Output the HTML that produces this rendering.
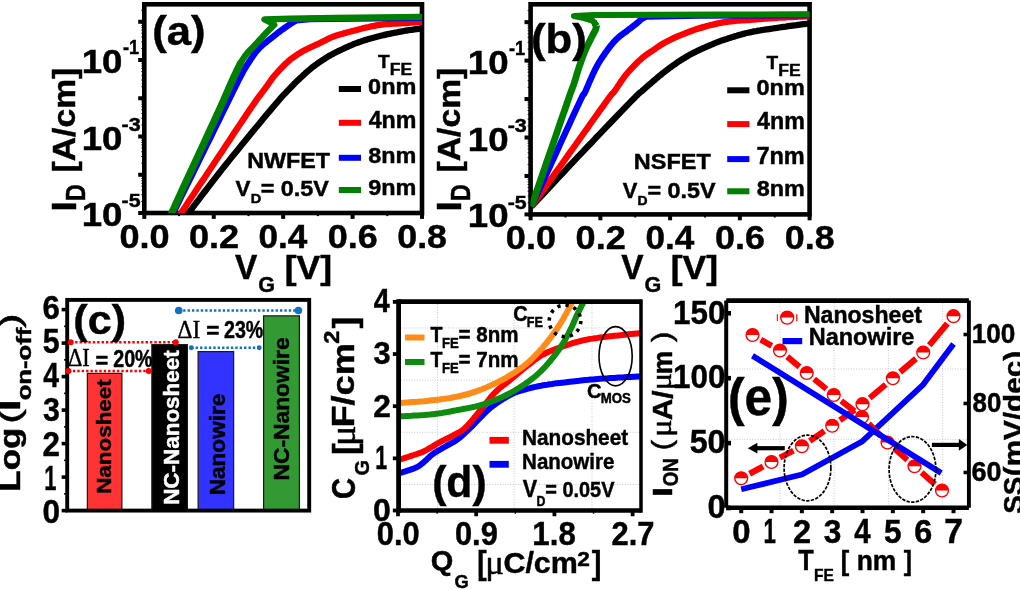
<!DOCTYPE html>
<html><head><meta charset="utf-8"><title>Figure</title>
<style>html,body{margin:0;padding:0;background:#fff;overflow:hidden}svg{display:block}text{white-space:pre}</style>
</head><body>
<svg width="1020" height="590" viewBox="0 0 1020 590">
<rect width="1020" height="590" fill="#fff"/>
<rect x="144.30" y="4.30" width="277.70" height="208.70" fill="none" stroke="#000" stroke-width="4.6" />
<line x1="138.20" y1="213.00" x2="144.30" y2="213.00" stroke="#000" stroke-width="4.0" />
<line x1="141.30" y1="201.49" x2="144.30" y2="201.49" stroke="#000" stroke-width="0.9" />
<line x1="141.30" y1="194.75" x2="144.30" y2="194.75" stroke="#000" stroke-width="0.9" />
<line x1="141.30" y1="189.97" x2="144.30" y2="189.97" stroke="#000" stroke-width="0.9" />
<line x1="141.30" y1="186.26" x2="144.30" y2="186.26" stroke="#000" stroke-width="0.9" />
<line x1="141.30" y1="183.24" x2="144.30" y2="183.24" stroke="#000" stroke-width="0.9" />
<line x1="141.30" y1="180.67" x2="144.30" y2="180.67" stroke="#000" stroke-width="0.9" />
<line x1="141.30" y1="178.46" x2="144.30" y2="178.46" stroke="#000" stroke-width="0.9" />
<line x1="141.30" y1="176.50" x2="144.30" y2="176.50" stroke="#000" stroke-width="0.9" />
<line x1="138.20" y1="174.75" x2="144.30" y2="174.75" stroke="#000" stroke-width="4.0" />
<line x1="141.30" y1="163.24" x2="144.30" y2="163.24" stroke="#000" stroke-width="0.9" />
<line x1="141.30" y1="156.50" x2="144.30" y2="156.50" stroke="#000" stroke-width="0.9" />
<line x1="141.30" y1="151.72" x2="144.30" y2="151.72" stroke="#000" stroke-width="0.9" />
<line x1="141.30" y1="148.01" x2="144.30" y2="148.01" stroke="#000" stroke-width="0.9" />
<line x1="141.30" y1="144.99" x2="144.30" y2="144.99" stroke="#000" stroke-width="0.9" />
<line x1="141.30" y1="142.42" x2="144.30" y2="142.42" stroke="#000" stroke-width="0.9" />
<line x1="141.30" y1="140.21" x2="144.30" y2="140.21" stroke="#000" stroke-width="0.9" />
<line x1="141.30" y1="138.25" x2="144.30" y2="138.25" stroke="#000" stroke-width="0.9" />
<line x1="138.20" y1="136.50" x2="144.30" y2="136.50" stroke="#000" stroke-width="4.0" />
<line x1="141.30" y1="124.99" x2="144.30" y2="124.99" stroke="#000" stroke-width="0.9" />
<line x1="141.30" y1="118.25" x2="144.30" y2="118.25" stroke="#000" stroke-width="0.9" />
<line x1="141.30" y1="113.47" x2="144.30" y2="113.47" stroke="#000" stroke-width="0.9" />
<line x1="141.30" y1="109.76" x2="144.30" y2="109.76" stroke="#000" stroke-width="0.9" />
<line x1="141.30" y1="106.74" x2="144.30" y2="106.74" stroke="#000" stroke-width="0.9" />
<line x1="141.30" y1="104.17" x2="144.30" y2="104.17" stroke="#000" stroke-width="0.9" />
<line x1="141.30" y1="101.96" x2="144.30" y2="101.96" stroke="#000" stroke-width="0.9" />
<line x1="141.30" y1="100.00" x2="144.30" y2="100.00" stroke="#000" stroke-width="0.9" />
<line x1="138.20" y1="98.25" x2="144.30" y2="98.25" stroke="#000" stroke-width="4.0" />
<line x1="141.30" y1="86.74" x2="144.30" y2="86.74" stroke="#000" stroke-width="0.9" />
<line x1="141.30" y1="80.00" x2="144.30" y2="80.00" stroke="#000" stroke-width="0.9" />
<line x1="141.30" y1="75.22" x2="144.30" y2="75.22" stroke="#000" stroke-width="0.9" />
<line x1="141.30" y1="71.51" x2="144.30" y2="71.51" stroke="#000" stroke-width="0.9" />
<line x1="141.30" y1="68.49" x2="144.30" y2="68.49" stroke="#000" stroke-width="0.9" />
<line x1="141.30" y1="65.92" x2="144.30" y2="65.92" stroke="#000" stroke-width="0.9" />
<line x1="141.30" y1="63.71" x2="144.30" y2="63.71" stroke="#000" stroke-width="0.9" />
<line x1="141.30" y1="61.75" x2="144.30" y2="61.75" stroke="#000" stroke-width="0.9" />
<line x1="138.20" y1="60.00" x2="144.30" y2="60.00" stroke="#000" stroke-width="4.0" />
<line x1="141.30" y1="48.49" x2="144.30" y2="48.49" stroke="#000" stroke-width="0.9" />
<line x1="141.30" y1="41.75" x2="144.30" y2="41.75" stroke="#000" stroke-width="0.9" />
<line x1="141.30" y1="36.97" x2="144.30" y2="36.97" stroke="#000" stroke-width="0.9" />
<line x1="141.30" y1="33.26" x2="144.30" y2="33.26" stroke="#000" stroke-width="0.9" />
<line x1="141.30" y1="30.24" x2="144.30" y2="30.24" stroke="#000" stroke-width="0.9" />
<line x1="141.30" y1="27.67" x2="144.30" y2="27.67" stroke="#000" stroke-width="0.9" />
<line x1="141.30" y1="25.46" x2="144.30" y2="25.46" stroke="#000" stroke-width="0.9" />
<line x1="141.30" y1="23.50" x2="144.30" y2="23.50" stroke="#000" stroke-width="0.9" />
<line x1="138.20" y1="21.75" x2="144.30" y2="21.75" stroke="#000" stroke-width="4.0" />
<line x1="141.30" y1="10.24" x2="144.30" y2="10.24" stroke="#000" stroke-width="0.9" />
<line x1="144.30" y1="213.00" x2="144.30" y2="218.90" stroke="#000" stroke-width="4.0" />
<line x1="179.01" y1="213.00" x2="179.01" y2="216.10" stroke="#000" stroke-width="2.0" />
<line x1="213.73" y1="213.00" x2="213.73" y2="218.90" stroke="#000" stroke-width="4.0" />
<line x1="248.44" y1="213.00" x2="248.44" y2="216.10" stroke="#000" stroke-width="2.0" />
<line x1="283.15" y1="213.00" x2="283.15" y2="218.90" stroke="#000" stroke-width="4.0" />
<line x1="317.86" y1="213.00" x2="317.86" y2="216.10" stroke="#000" stroke-width="2.0" />
<line x1="352.57" y1="213.00" x2="352.57" y2="218.90" stroke="#000" stroke-width="4.0" />
<line x1="387.29" y1="213.00" x2="387.29" y2="216.10" stroke="#000" stroke-width="2.0" />
<line x1="422.00" y1="213.00" x2="422.00" y2="218.90" stroke="#000" stroke-width="4.0" />
<clipPath id="clipa"><rect x="144.3" y="4.3" width="277.7" height="208.7"/></clipPath>
<g clip-path="url(#clipa)">
<polyline points="187.8,214.0 187.8,214.0 187.6,214.3 187.3,214.7 186.9,215.1 186.6,215.6 186.3,215.9 186.1,216.1 186.2,216.1 186.5,215.7 187.0,215.0 188.0,213.7 189.3,212.0 191.1,209.7 193.2,206.9 195.6,203.7 198.4,200.1 201.3,196.2 204.5,192.0 207.9,187.6 211.3,183.1 214.8,178.6 218.4,174.0 222.0,169.4 225.5,165.0 229.2,160.4 233.1,155.5 237.3,150.4 241.6,145.1 246.0,139.7 250.4,134.3 254.7,129.1 259.0,124.0 263.0,119.1 266.7,114.6 270.1,110.6 273.1,107.0 275.7,103.9 278.0,101.3 280.0,98.9 281.8,96.9 283.4,95.2 284.9,93.6 286.1,92.3 287.3,91.0 288.5,89.9 289.5,88.8 290.6,87.7 291.7,86.5 292.7,85.4 293.7,84.4 294.4,83.6 295.1,82.9 295.8,82.3 296.3,81.7 296.9,81.2 297.4,80.7 298.0,80.2 298.6,79.6 299.3,79.0 300.0,78.3 300.8,77.5 301.6,76.8 302.5,76.0 303.4,75.1 304.3,74.3 305.2,73.5 306.1,72.6 307.0,71.8 308.0,71.0 308.9,70.2 309.9,69.4 310.8,68.6 311.8,67.8 312.7,67.1 313.7,66.3 314.7,65.6 315.7,64.9 316.7,64.1 317.7,63.4 318.7,62.7 319.7,62.0 320.7,61.3 321.7,60.7 322.7,60.0 323.7,59.4 324.6,58.8 325.5,58.2 326.4,57.6 327.3,57.0 328.2,56.5 329.1,55.9 330.1,55.4 331.2,54.8 332.4,54.2 333.6,53.5 335.0,52.8 336.5,52.0 338.2,51.2 339.9,50.4 341.7,49.5 343.7,48.6 345.6,47.7 347.6,46.8 349.6,45.9 351.6,45.1 353.6,44.2 355.6,43.4 357.5,42.7 359.4,42.0 361.2,41.4 363.1,40.7 365.0,40.1 366.8,39.6 368.7,39.0 370.6,38.5 372.4,38.0 374.3,37.5 376.2,37.0 378.0,36.5 379.9,36.0 381.8,35.5 383.7,35.1 385.7,34.6 387.6,34.2 389.6,33.8 391.5,33.4 393.4,33.0 395.3,32.6 397.2,32.3 399.0,31.9 400.7,31.6 402.4,31.3 404.0,31.0 405.6,30.7 407.2,30.5 408.8,30.2 410.3,30.0 411.8,29.8 413.2,29.6 414.5,29.4 415.8,29.2 417.0,29.1 418.0,28.9 419.0,28.8 419.8,28.7 420.6,28.6 421.2,28.5 421.7,28.4 422.2,28.4 422.5,28.3 422.9,28.3 423.1,28.3 423.4,28.3 423.6,28.2 423.8,28.2 424.0,28.2" fill="none" stroke="#000" stroke-width="6.3" stroke-linejoin="round" />
<polyline points="180.4,214.0 180.4,214.0 180.2,214.3 179.9,214.7 179.6,215.1 179.3,215.6 179.1,215.9 179.0,216.1 179.0,216.1 179.2,215.7 179.7,215.0 180.5,213.7 181.7,212.0 183.2,209.7 185.1,206.9 187.2,203.7 189.6,200.1 192.2,196.2 195.0,192.0 197.9,187.6 200.9,183.1 204.0,178.6 207.0,174.0 210.0,169.4 213.0,165.0 216.0,160.4 219.3,155.5 222.7,150.4 226.2,145.1 229.8,139.7 233.3,134.3 236.8,129.0 240.2,123.9 243.5,119.1 246.5,114.6 249.2,110.5 251.6,107.0 253.7,104.0 255.5,101.4 257.1,99.1 258.5,97.2 259.7,95.6 260.8,94.1 261.8,92.8 262.7,91.7 263.5,90.5 264.4,89.4 265.3,88.3 266.2,87.0 267.1,85.7 268.0,84.6 268.7,83.5 269.4,82.5 270.1,81.5 270.7,80.6 271.3,79.7 272.0,78.8 272.6,77.9 273.3,77.0 274.1,76.1 274.9,75.1 275.8,74.1 276.8,73.0 277.8,71.8 278.8,70.7 279.9,69.6 280.9,68.4 282.0,67.3 283.1,66.3 284.1,65.2 285.1,64.2 286.0,63.3 286.9,62.5 287.7,61.8 288.5,61.1 289.2,60.5 289.8,59.9 290.5,59.4 291.1,58.9 291.7,58.5 292.3,58.0 292.9,57.6 293.5,57.2 294.2,56.8 294.8,56.3 295.5,55.8 296.1,55.4 296.8,54.9 297.5,54.5 298.1,54.0 298.8,53.6 299.5,53.2 300.1,52.8 300.8,52.4 301.5,52.0 302.1,51.6 302.8,51.2 303.5,50.8 304.1,50.5 304.8,50.1 305.5,49.8 306.1,49.4 306.8,49.1 307.5,48.8 308.1,48.5 308.8,48.1 309.5,47.8 310.1,47.5 310.8,47.2 311.5,46.9 312.1,46.6 312.8,46.3 313.5,45.9 314.2,45.6 314.9,45.3 315.5,45.0 316.2,44.7 316.9,44.4 317.5,44.2 318.1,43.9 318.7,43.6 319.3,43.3 319.8,43.1 320.2,42.8 320.7,42.6 321.1,42.4 321.5,42.2 322.0,41.9 322.5,41.7 322.9,41.4 323.5,41.2 324.1,40.9 324.7,40.6 325.4,40.3 326.0,39.9 326.7,39.6 327.4,39.2 328.1,38.9 328.8,38.5 329.6,38.1 330.5,37.7 331.5,37.3 332.5,36.9 333.7,36.4 335.0,36.0 336.4,35.5 338.0,35.0 339.8,34.5 341.6,34.0 343.5,33.4 345.5,32.9 347.5,32.3 349.6,31.8 351.6,31.2 353.6,30.7 355.6,30.2 357.5,29.7 359.4,29.2 361.2,28.8 363.1,28.3 365.0,27.8 366.8,27.4 368.7,27.0 370.6,26.5 372.4,26.1 374.3,25.8 376.2,25.4 378.0,25.1 379.9,24.8 381.8,24.6 383.7,24.3 385.5,24.2 387.4,24.0 389.3,23.9 391.2,23.8 393.1,23.7 395.0,23.6 396.8,23.5 398.7,23.4 400.6,23.3 402.4,23.2 404.3,23.1 406.3,23.0 408.4,22.8 410.5,22.7 412.6,22.6 414.6,22.4 416.6,22.3 418.4,22.2 420.1,22.1 421.7,22.0 423.0,22.0 424.0,21.9" fill="none" stroke="#ff0000" stroke-width="6.3" stroke-linejoin="round" />
<polyline points="173.4,214.0 173.3,214.0 173.2,214.3 172.9,214.7 172.7,215.1 172.4,215.6 172.2,215.9 172.0,216.1 172.0,216.1 172.1,215.7 172.4,215.0 173.0,213.7 173.8,212.0 174.9,209.7 176.3,206.9 177.9,203.7 179.6,200.1 181.5,196.2 183.6,192.0 185.7,187.6 188.0,183.1 190.2,178.6 192.5,174.0 194.7,169.4 196.9,165.0 199.1,160.4 201.5,155.6 204.1,150.4 206.6,145.2 209.3,139.8 211.9,134.5 214.5,129.2 217.0,124.1 219.4,119.3 221.6,114.7 223.6,110.6 225.4,107.0 226.9,103.9 228.3,101.1 229.5,98.7 230.5,96.5 231.5,94.7 232.3,93.0 233.0,91.4 233.7,90.0 234.4,88.7 235.1,87.3 235.8,85.9 236.5,84.5 237.2,83.1 237.9,81.7 238.5,80.4 239.1,79.2 239.7,78.1 240.3,77.0 240.8,76.0 241.3,75.0 241.9,74.0 242.4,73.0 242.9,72.0 243.5,71.0 244.1,70.0 244.7,69.0 245.3,68.0 245.8,67.0 246.4,66.1 247.0,65.1 247.6,64.2 248.2,63.3 248.7,62.4 249.3,61.6 249.8,60.8 250.3,60.0 250.8,59.2 251.3,58.5 251.7,57.9 252.1,57.2 252.5,56.6 253.0,56.0 253.4,55.4 253.8,54.8 254.2,54.2 254.6,53.7 255.0,53.1 255.5,52.5 256.0,51.9 256.4,51.4 256.9,50.8 257.4,50.2 257.9,49.7 258.4,49.2 258.9,48.6 259.4,48.1 259.9,47.6 260.4,47.0 260.9,46.5 261.5,46.0 262.1,45.5 262.6,45.0 263.1,44.6 263.7,44.1 264.2,43.7 264.8,43.2 265.4,42.8 266.0,42.3 266.6,41.8 267.3,41.2 268.1,40.6 268.9,40.0 269.8,39.3 270.7,38.5 271.8,37.7 272.8,36.9 274.0,36.0 275.1,35.1 276.2,34.2 277.4,33.3 278.5,32.4 279.6,31.6 280.7,30.8 281.7,30.0 282.7,29.3 283.7,28.6 284.7,27.9 285.7,27.2 286.6,26.5 287.6,25.9 288.5,25.3 289.4,24.7 290.2,24.1 291.0,23.6 291.7,23.1 292.4,22.7 293.0,22.3 293.5,22.0 294.0,21.7 294.4,21.5 294.8,21.3 295.1,21.1 295.4,20.9 295.7,20.8 295.9,20.7 296.1,20.6 296.3,20.5 296.5,20.4 310.0,19.0 424.0,17.8" fill="none" stroke="#0000ff" stroke-width="6.3" stroke-linejoin="round" />
<polyline points="171.2,214.0 171.2,214.0 171.1,214.3 170.9,214.7 170.7,215.1 170.5,215.6 170.3,215.9 170.2,216.1 170.2,216.1 170.4,215.7 170.7,215.0 171.3,213.7 172.1,212.0 173.2,209.7 174.5,206.9 175.9,203.7 177.6,200.1 179.4,196.2 181.3,192.0 183.3,187.6 185.4,183.1 187.5,178.6 189.6,174.0 191.7,169.4 193.8,165.0 195.9,160.4 198.2,155.6 200.5,150.5 203.0,145.2 205.4,139.9 207.9,134.6 210.3,129.3 212.7,124.2 214.9,119.4 217.0,114.8 218.9,110.7 220.6,107.0 222.1,103.8 223.4,100.9 224.5,98.3 225.5,96.0 226.5,93.9 227.3,92.0 228.0,90.3 228.7,88.7 229.3,87.3 230.0,85.8 230.6,84.4 231.2,83.0 231.8,81.7 232.3,80.5 232.8,79.4 233.2,78.5 233.6,77.7 233.9,76.9 234.3,76.2 234.6,75.5 234.9,74.8 235.2,74.1 235.6,73.3 236.0,72.5 236.4,71.6 236.9,70.6 237.4,69.6 237.9,68.6 238.4,67.6 238.9,66.6 239.4,65.6 239.8,64.7 240.3,63.9 240.6,63.1 240.9,62.5 241.2,62.0" fill="none" stroke="#007f00" stroke-width="7.2" stroke-linejoin="round" />
<polyline points="220.6,107.0 221.1,105.8 221.8,104.2 222.6,102.4 223.6,100.3 224.6,98.0 225.6,95.7 226.7,93.3 227.7,90.9 228.7,88.6 229.6,86.5 230.5,84.6 231.2,83.0 231.8,81.7 232.3,80.5 232.8,79.4 233.2,78.5 233.6,77.7 233.9,76.9 234.3,76.2 234.6,75.5 234.9,74.8 235.2,74.1 235.6,73.3 236.0,72.5 236.4,71.6 236.8,70.7 237.3,69.8 237.7,68.9 238.1,68.0 238.5,67.1 239.0,66.2 239.4,65.4 239.8,64.5 240.3,63.6 240.7,62.8 241.2,62.0 241.7,61.2 242.1,60.5 242.6,59.7 243.0,59.0 243.5,58.3 244.0,57.6 244.5,56.9 244.9,56.2 245.4,55.5 246.0,54.8 246.5,54.2 247.0,53.5 247.5,52.8 248.1,52.2 248.7,51.6 249.3,50.9 249.9,50.3 250.4,49.7 251.1,49.1 251.7,48.5 252.3,47.9 252.9,47.3 253.5,46.6 254.1,46.0 254.7,45.4 255.3,44.7 255.9,44.0 256.5,43.4 257.2,42.7 257.8,42.0 258.4,41.4 259.0,40.7 259.6,40.0 260.3,39.3 260.9,38.7 261.5,38.0 262.1,37.3 262.8,36.6 263.4,35.9 264.0,35.2 264.7,34.5 265.3,33.8 266.0,33.1 266.6,32.5 267.2,31.8 267.8,31.2 268.4,30.6 268.9,30.0 269.4,29.5 270.0,28.9 270.5,28.4 271.0,27.9 271.5,27.4 272.0,26.9 272.5,26.5 272.9,26.0 273.3,25.7 273.6,25.3 274.0,25.0 274.2,24.8 270.0,22.0 264.5,19.4 290.0,18.8 335.0,18.0 424.0,16.9" fill="none" stroke="#007f00" stroke-width="6.4" stroke-linejoin="round" />
<polyline points="276.0,26.0 269.5,24.8 275.5,23.2 268.5,22.0 273.0,20.6 265.0,19.4 270.0,18.0" fill="none" stroke="#007f00" stroke-width="1.3" stroke-linejoin="round" />
</g>
<text transform="translate(119.55,248.06) scale(1.0715,1)" font-size="33.64" font-family="Liberation Sans, sans-serif" font-weight="bold" fill="#000" stroke="#000" stroke-width="0.45">0.0</text>
<text transform="translate(188.97,248.06) scale(1.0715,1)" font-size="33.64" font-family="Liberation Sans, sans-serif" font-weight="bold" fill="#000" stroke="#000" stroke-width="0.45">0.2</text>
<text transform="translate(258.43,248.06) scale(1.0437,1)" font-size="33.64" font-family="Liberation Sans, sans-serif" font-weight="bold" fill="#000" stroke="#000" stroke-width="0.45">0.4</text>
<text transform="translate(327.83,248.06) scale(1.0675,1)" font-size="33.64" font-family="Liberation Sans, sans-serif" font-weight="bold" fill="#000" stroke="#000" stroke-width="0.45">0.6</text>
<text transform="translate(397.26,248.06) scale(1.0634,1)" font-size="33.64" font-family="Liberation Sans, sans-serif" font-weight="bold" fill="#000" stroke="#000" stroke-width="0.45">0.8</text>
<text transform="translate(81.71,226.07) scale(1.1029,1)" font-size="33.22" font-family="Liberation Sans, sans-serif" font-weight="bold" fill="#000" stroke="#000" stroke-width="0.45">10</text>
<text transform="translate(121.60,207.21) scale(1.1104,1)" font-size="19.21" font-family="Liberation Sans, sans-serif" font-weight="bold" fill="#000" stroke="#000" stroke-width="0.45">-5</text>
<text transform="translate(81.71,149.57) scale(1.1029,1)" font-size="33.22" font-family="Liberation Sans, sans-serif" font-weight="bold" fill="#000" stroke="#000" stroke-width="0.45">10</text>
<text transform="translate(121.59,130.66) scale(1.1407,1)" font-size="18.87" font-family="Liberation Sans, sans-serif" font-weight="bold" fill="#000" stroke="#000" stroke-width="0.45">-3</text>
<text transform="translate(81.71,73.07) scale(1.1029,1)" font-size="33.22" font-family="Liberation Sans, sans-serif" font-weight="bold" fill="#000" stroke="#000" stroke-width="0.45">10</text>
<text transform="translate(122.92,54.40) scale(0.9328,1)" font-size="19.49" font-family="Liberation Sans, sans-serif" font-weight="bold" fill="#000" stroke="#000" stroke-width="0.45">-1</text>
<text transform="translate(75.80,211.58) rotate(-90) scale(1.0665,1)" font-size="34.33" font-family="Liberation Sans, sans-serif" font-weight="bold" fill="#000" stroke="#000" stroke-width="0.45">I</text>
<text transform="translate(85.20,200.92) rotate(-90) scale(0.8438,1)" font-size="27.64" font-family="Liberation Sans, sans-serif" font-weight="bold" fill="#000" stroke="#000" stroke-width="0.45">D</text>
<text transform="translate(74.59,172.45) rotate(-90) scale(1.0901,1)" font-size="30.88" font-family="Liberation Sans, sans-serif" font-weight="bold" fill="#000" stroke="#000" stroke-width="0.45">[A/cm]</text>
<text transform="translate(235.03,279.20) scale(0.9665,1)" font-size="34.62" font-family="Liberation Sans, sans-serif" font-weight="bold" fill="#000" stroke="#000" stroke-width="0.45">V</text>
<text transform="translate(258.34,292.39) scale(1.0164,1)" font-size="21.20" font-family="Liberation Sans, sans-serif" font-weight="bold" fill="#000" stroke="#000" stroke-width="0.45">G</text>
<text transform="translate(284.65,278.84) scale(1.0890,1)" font-size="32.60" font-family="Liberation Sans, sans-serif" font-weight="bold" fill="#000" stroke="#000" stroke-width="0.45">[V]</text>
<text transform="translate(152.33,44.83) scale(1.0822,1)" font-size="40.32" font-family="Liberation Sans, sans-serif" font-weight="bold" fill="#000" stroke="#000" stroke-width="0.45">(a)</text>
<line x1="338.80" y1="89.00" x2="361.00" y2="89.00" stroke="#000" stroke-width="6" />
<text transform="translate(368.12,93.78) scale(1.0456,1)" font-size="22.47" font-family="Liberation Sans, sans-serif" font-weight="bold" fill="#000" stroke="#000" stroke-width="0.45">0nm</text>
<line x1="338.80" y1="122.80" x2="361.00" y2="122.80" stroke="#ff0000" stroke-width="6" />
<text transform="translate(368.65,127.80) scale(1.0045,1)" font-size="23.13" font-family="Liberation Sans, sans-serif" font-weight="bold" fill="#000" stroke="#000" stroke-width="0.45">4nm</text>
<line x1="338.80" y1="157.80" x2="361.00" y2="157.80" stroke="#0000ff" stroke-width="6" />
<text transform="translate(368.30,162.58) scale(1.0417,1)" font-size="22.47" font-family="Liberation Sans, sans-serif" font-weight="bold" fill="#000" stroke="#000" stroke-width="0.45">8nm</text>
<line x1="338.80" y1="190.00" x2="361.00" y2="190.00" stroke="#007f00" stroke-width="6" />
<text transform="translate(368.24,194.78) scale(1.0430,1)" font-size="22.47" font-family="Liberation Sans, sans-serif" font-weight="bold" fill="#000" stroke="#000" stroke-width="0.45">9nm</text>
<text transform="translate(378.11,68.00) scale(1.0086,1)" font-size="18.91" font-family="Liberation Sans, sans-serif" font-weight="bold" fill="#000" stroke="#000" stroke-width="0.45">T</text>
<text transform="translate(389.86,74.80) scale(1.0762,1)" font-size="16.29" font-family="Liberation Sans, sans-serif" font-weight="bold" fill="#000" stroke="#000" stroke-width="0.45">FE</text>
<text transform="translate(247.28,167.80) scale(1.0146,1)" font-size="22.98" font-family="Liberation Sans, sans-serif" font-weight="bold" fill="#000" stroke="#000" stroke-width="0.45">NWFET</text><text transform="translate(235.49,196.20) scale(0.9853,1)" font-size="22.69" font-family="Liberation Sans, sans-serif" font-weight="bold" fill="#000" stroke="#000" stroke-width="0.45">V</text><text transform="translate(250.65,202.60) scale(1.1134,1)" font-size="13.09" font-family="Liberation Sans, sans-serif" font-weight="bold" fill="#000" stroke="#000" stroke-width="0.45">D</text><text transform="translate(260.67,196.28) scale(1.0533,1)" font-size="22.19" font-family="Liberation Sans, sans-serif" font-weight="bold" fill="#000" stroke="#000" stroke-width="0.45">= 0.5V</text>
<rect x="530.60" y="4.30" width="279.00" height="210.10" fill="none" stroke="#000" stroke-width="4.6" />
<line x1="524.50" y1="214.40" x2="530.60" y2="214.40" stroke="#000" stroke-width="4.0" />
<line x1="527.60" y1="202.83" x2="530.60" y2="202.83" stroke="#000" stroke-width="0.9" />
<line x1="527.60" y1="196.05" x2="530.60" y2="196.05" stroke="#000" stroke-width="0.9" />
<line x1="527.60" y1="191.25" x2="530.60" y2="191.25" stroke="#000" stroke-width="0.9" />
<line x1="527.60" y1="187.52" x2="530.60" y2="187.52" stroke="#000" stroke-width="0.9" />
<line x1="527.60" y1="184.48" x2="530.60" y2="184.48" stroke="#000" stroke-width="0.9" />
<line x1="527.60" y1="181.91" x2="530.60" y2="181.91" stroke="#000" stroke-width="0.9" />
<line x1="527.60" y1="179.68" x2="530.60" y2="179.68" stroke="#000" stroke-width="0.9" />
<line x1="527.60" y1="177.71" x2="530.60" y2="177.71" stroke="#000" stroke-width="0.9" />
<line x1="524.50" y1="175.95" x2="530.60" y2="175.95" stroke="#000" stroke-width="4.0" />
<line x1="527.60" y1="164.38" x2="530.60" y2="164.38" stroke="#000" stroke-width="0.9" />
<line x1="527.60" y1="157.60" x2="530.60" y2="157.60" stroke="#000" stroke-width="0.9" />
<line x1="527.60" y1="152.80" x2="530.60" y2="152.80" stroke="#000" stroke-width="0.9" />
<line x1="527.60" y1="149.07" x2="530.60" y2="149.07" stroke="#000" stroke-width="0.9" />
<line x1="527.60" y1="146.03" x2="530.60" y2="146.03" stroke="#000" stroke-width="0.9" />
<line x1="527.60" y1="143.46" x2="530.60" y2="143.46" stroke="#000" stroke-width="0.9" />
<line x1="527.60" y1="141.23" x2="530.60" y2="141.23" stroke="#000" stroke-width="0.9" />
<line x1="527.60" y1="139.26" x2="530.60" y2="139.26" stroke="#000" stroke-width="0.9" />
<line x1="524.50" y1="137.50" x2="530.60" y2="137.50" stroke="#000" stroke-width="4.0" />
<line x1="527.60" y1="125.93" x2="530.60" y2="125.93" stroke="#000" stroke-width="0.9" />
<line x1="527.60" y1="119.15" x2="530.60" y2="119.15" stroke="#000" stroke-width="0.9" />
<line x1="527.60" y1="114.35" x2="530.60" y2="114.35" stroke="#000" stroke-width="0.9" />
<line x1="527.60" y1="110.62" x2="530.60" y2="110.62" stroke="#000" stroke-width="0.9" />
<line x1="527.60" y1="107.58" x2="530.60" y2="107.58" stroke="#000" stroke-width="0.9" />
<line x1="527.60" y1="105.01" x2="530.60" y2="105.01" stroke="#000" stroke-width="0.9" />
<line x1="527.60" y1="102.78" x2="530.60" y2="102.78" stroke="#000" stroke-width="0.9" />
<line x1="527.60" y1="100.81" x2="530.60" y2="100.81" stroke="#000" stroke-width="0.9" />
<line x1="524.50" y1="99.05" x2="530.60" y2="99.05" stroke="#000" stroke-width="4.0" />
<line x1="527.60" y1="87.48" x2="530.60" y2="87.48" stroke="#000" stroke-width="0.9" />
<line x1="527.60" y1="80.70" x2="530.60" y2="80.70" stroke="#000" stroke-width="0.9" />
<line x1="527.60" y1="75.90" x2="530.60" y2="75.90" stroke="#000" stroke-width="0.9" />
<line x1="527.60" y1="72.17" x2="530.60" y2="72.17" stroke="#000" stroke-width="0.9" />
<line x1="527.60" y1="69.13" x2="530.60" y2="69.13" stroke="#000" stroke-width="0.9" />
<line x1="527.60" y1="66.56" x2="530.60" y2="66.56" stroke="#000" stroke-width="0.9" />
<line x1="527.60" y1="64.33" x2="530.60" y2="64.33" stroke="#000" stroke-width="0.9" />
<line x1="527.60" y1="62.36" x2="530.60" y2="62.36" stroke="#000" stroke-width="0.9" />
<line x1="524.50" y1="60.60" x2="530.60" y2="60.60" stroke="#000" stroke-width="4.0" />
<line x1="527.60" y1="49.03" x2="530.60" y2="49.03" stroke="#000" stroke-width="0.9" />
<line x1="527.60" y1="42.25" x2="530.60" y2="42.25" stroke="#000" stroke-width="0.9" />
<line x1="527.60" y1="37.45" x2="530.60" y2="37.45" stroke="#000" stroke-width="0.9" />
<line x1="527.60" y1="33.72" x2="530.60" y2="33.72" stroke="#000" stroke-width="0.9" />
<line x1="527.60" y1="30.68" x2="530.60" y2="30.68" stroke="#000" stroke-width="0.9" />
<line x1="527.60" y1="28.11" x2="530.60" y2="28.11" stroke="#000" stroke-width="0.9" />
<line x1="527.60" y1="25.88" x2="530.60" y2="25.88" stroke="#000" stroke-width="0.9" />
<line x1="527.60" y1="23.91" x2="530.60" y2="23.91" stroke="#000" stroke-width="0.9" />
<line x1="524.50" y1="22.15" x2="530.60" y2="22.15" stroke="#000" stroke-width="4.0" />
<line x1="527.60" y1="10.58" x2="530.60" y2="10.58" stroke="#000" stroke-width="0.9" />
<line x1="530.60" y1="214.40" x2="530.60" y2="220.30" stroke="#000" stroke-width="4.0" />
<line x1="565.48" y1="214.40" x2="565.48" y2="217.50" stroke="#000" stroke-width="2.0" />
<line x1="600.35" y1="214.40" x2="600.35" y2="220.30" stroke="#000" stroke-width="4.0" />
<line x1="635.23" y1="214.40" x2="635.23" y2="217.50" stroke="#000" stroke-width="2.0" />
<line x1="670.10" y1="214.40" x2="670.10" y2="220.30" stroke="#000" stroke-width="4.0" />
<line x1="704.98" y1="214.40" x2="704.98" y2="217.50" stroke="#000" stroke-width="2.0" />
<line x1="739.85" y1="214.40" x2="739.85" y2="220.30" stroke="#000" stroke-width="4.0" />
<line x1="774.73" y1="214.40" x2="774.73" y2="217.50" stroke="#000" stroke-width="2.0" />
<line x1="809.60" y1="214.40" x2="809.60" y2="220.30" stroke="#000" stroke-width="4.0" />
<clipPath id="clipb"><rect x="530.6" y="4.3" width="279.0" height="210.1"/></clipPath>
<g clip-path="url(#clipb)">
<polyline points="531.5,206.5 533.9,203.9 537.0,200.6 540.6,196.8 544.6,192.5 549.0,187.8 553.6,182.8 558.4,177.7 563.3,172.5 568.2,167.2 573.0,162.1 577.6,157.2 582.0,152.6 586.3,148.0 590.9,143.3 595.5,138.3 600.3,133.4 605.0,128.4 609.7,123.5 614.3,118.8 618.6,114.3 622.6,110.1 626.3,106.3 629.6,102.9 632.4,100.0 634.7,97.7 636.4,95.9 637.8,94.6 638.8,93.6 639.5,92.9 640.0,92.5 640.4,92.2 640.7,92.0 641.0,91.8 641.4,91.5 641.9,91.1 642.6,90.5 643.4,89.7 644.3,89.0 645.1,88.3 645.9,87.5 646.8,86.8 647.6,86.1 648.4,85.3 649.2,84.6 650.0,83.9 650.9,83.2 651.7,82.5 652.5,81.8 653.3,81.1 654.1,80.4 655.0,79.7 655.8,79.0 656.6,78.3 657.4,77.6 658.2,76.9 659.0,76.3 659.9,75.6 660.7,74.9 661.5,74.3 662.3,73.6 663.1,73.0 663.9,72.3 664.8,71.7 665.6,71.0 666.4,70.4 667.2,69.8 668.0,69.2 668.8,68.6 669.6,68.0 670.5,67.4 671.3,66.8 672.1,66.2 672.9,65.6 673.7,65.0 674.6,64.5 675.4,63.9 676.2,63.3 677.0,62.7 677.8,62.2 678.6,61.6 679.5,61.1 680.3,60.6 681.1,60.0 681.9,59.5 682.7,59.0 683.5,58.5 684.4,58.0 685.2,57.5 686.0,57.0 686.8,56.5 687.6,56.1 688.4,55.6 689.2,55.1 690.1,54.7 690.9,54.2 691.7,53.8 692.5,53.4 693.3,52.9 694.2,52.5 695.0,52.1 695.8,51.7 696.6,51.3 697.4,50.9 698.2,50.5 699.1,50.1 699.9,49.8 700.7,49.4 701.5,49.0 702.3,48.6 703.1,48.3 703.9,47.9 704.6,47.6 705.4,47.2 706.2,46.9 706.9,46.5 707.7,46.2 708.6,45.8 709.4,45.5 710.3,45.1 711.3,44.7 712.3,44.3 713.2,43.9 714.2,43.5 715.2,43.1 716.2,42.7 717.2,42.2 718.3,41.8 719.5,41.3 720.7,40.9 722.0,40.4 723.5,39.9 725.0,39.4 726.7,38.9 728.5,38.3 730.5,37.7 732.5,37.1 734.6,36.4 736.8,35.8 739.0,35.1 741.2,34.5 743.5,33.9 745.7,33.3 747.9,32.8 750.0,32.3 752.1,31.9 754.2,31.4 756.2,31.1 758.3,30.7 760.4,30.4 762.5,30.0 764.6,29.7 766.7,29.4 768.8,29.1 770.8,28.8 772.9,28.5 775.0,28.2 777.1,27.9 779.3,27.5 781.5,27.2 783.8,26.9 786.0,26.6 788.2,26.2 790.4,25.9 792.6,25.6 794.6,25.3 796.5,25.1 798.3,24.8 800.0,24.6 801.5,24.4 803.0,24.2 804.4,24.1 805.7,23.9 806.9,23.8 808.1,23.7 809.1,23.6 810.1,23.5 810.9,23.4 811.7,23.3 812.4,23.3 813.0,23.2" fill="none" stroke="#000" stroke-width="6.3" stroke-linejoin="round" />
<polyline points="531.5,206.5 533.3,203.9 535.6,200.7 538.3,196.9 541.4,192.7 544.6,188.1 548.1,183.2 551.7,178.1 555.4,172.9 559.1,167.8 562.7,162.7 566.2,157.8 569.5,153.2 572.8,148.6 576.2,143.8 579.7,138.9 583.3,133.8 586.9,128.8 590.4,123.8 593.8,119.0 597.1,114.4 600.1,110.2 602.9,106.3 605.3,102.9 607.4,100.0 609.1,97.7 610.3,96.0 611.3,94.8 611.9,94.0 612.4,93.5 612.7,93.2 612.9,93.0 613.1,92.9 613.2,92.8 613.5,92.5 613.9,92.0 614.5,91.2 615.2,90.2 616.0,89.1 616.8,87.9 617.6,86.6 618.5,85.3 619.4,84.0 620.2,82.7 621.1,81.4 622.0,80.1 622.9,78.8 623.8,77.6 624.6,76.5 625.4,75.4 626.3,74.4 627.1,73.4 628.0,72.4 628.8,71.4 629.6,70.5 630.5,69.6 631.3,68.7 632.1,67.8 633.0,66.9 633.8,66.0 634.6,65.2 635.4,64.4 636.2,63.6 637.0,62.8 637.8,62.0 638.6,61.2 639.4,60.5 640.2,59.8 641.0,59.1 641.8,58.4 642.6,57.7 643.4,57.0 644.2,56.4 645.0,55.8 645.8,55.2 646.6,54.6 647.4,54.0 648.2,53.5 649.0,52.9 649.8,52.4 650.6,51.9 651.4,51.3 652.2,50.8 652.9,50.3 653.7,49.8 654.4,49.3 655.2,48.8 655.9,48.3 656.6,47.8 657.3,47.3 658.0,46.8 658.7,46.3 659.4,45.9 660.1,45.4 660.8,44.9 661.5,44.5 662.3,44.0 663.1,43.5 663.9,43.1 664.7,42.7 665.5,42.2 666.3,41.8 667.1,41.4 668.0,40.9 668.8,40.5 669.6,40.1 670.5,39.7 671.3,39.3 672.1,38.9 672.9,38.5 673.6,38.2 674.3,37.8 675.0,37.5 675.7,37.2 676.4,36.9 677.1,36.5 677.9,36.2 678.8,35.8 679.7,35.5 680.7,35.1 681.9,34.6 683.2,34.1 684.6,33.6 686.0,33.0 687.6,32.4 689.2,31.8 690.8,31.2 692.6,30.5 694.3,29.9 696.1,29.3 697.9,28.7 699.7,28.1 701.5,27.6 703.3,27.1 705.2,26.6 707.1,26.0 709.0,25.5 710.9,25.0 712.9,24.6 714.9,24.1 716.9,23.6 718.9,23.2 721.0,22.8 723.0,22.4 725.0,22.1 727.0,21.8 729.1,21.5 731.1,21.3 733.2,21.1 735.3,20.9 737.4,20.7 739.5,20.6 741.6,20.4 743.7,20.3 745.8,20.1 747.9,20.0 750.0,19.8 752.1,19.6 754.2,19.5 756.2,19.3 758.3,19.1 760.4,19.0 762.5,18.8 764.6,18.7 766.7,18.6 768.8,18.4 770.8,18.3 772.9,18.1 775.0,18.0 777.1,17.9 779.3,17.7 781.5,17.6 783.8,17.5 786.0,17.3 788.2,17.2 790.4,17.1 792.6,17.0 794.6,16.9 796.5,16.8 798.3,16.7 800.0,16.6 801.5,16.5 803.0,16.5 804.4,16.4 805.7,16.4 806.9,16.3 808.1,16.3 809.1,16.3 810.1,16.3 810.9,16.2 811.7,16.2 812.4,16.2 813.0,16.2" fill="none" stroke="#ff0000" stroke-width="6.3" stroke-linejoin="round" />
<polyline points="531.5,206.5 532.7,203.9 534.2,200.7 535.9,196.9 537.9,192.7 540.0,188.1 542.2,183.2 544.6,178.1 546.9,172.9 549.3,167.8 551.6,162.7 553.9,157.8 556.0,153.2 558.1,148.6 560.3,143.8 562.6,138.8 564.9,133.8 567.2,128.7 569.5,123.8 571.7,118.9 573.8,114.4 575.8,110.1 577.6,106.2 579.2,102.8 580.5,100.0 581.6,97.8 582.3,96.3 582.9,95.2 583.3,94.6 583.5,94.3 583.6,94.2 583.7,94.3 583.8,94.3 583.9,94.2 584.1,93.9 584.5,93.3 585.0,92.2 585.7,90.8 586.4,89.1 587.2,87.2 588.1,85.2 589.0,83.1 589.9,80.9 590.9,78.7 591.9,76.5 592.8,74.4 593.8,72.3 594.7,70.4 595.6,68.6 596.5,67.0 597.3,65.4 598.2,63.9 599.1,62.4 599.9,61.0 600.8,59.6 601.7,58.3 602.5,57.0 603.4,55.7 604.3,54.5 605.1,53.2 606.0,52.0 606.9,50.8 607.7,49.6 608.6,48.4 609.5,47.3 610.3,46.2 611.2,45.1 612.1,44.1 613.0,43.0 613.8,42.0 614.7,41.1 615.6,40.1 616.5,39.2 617.4,38.3 618.3,37.5 619.3,36.7 620.2,35.9 621.2,35.2 622.2,34.4 623.1,33.7 624.0,33.0 625.0,32.4 625.9,31.7 626.8,31.1 627.6,30.4 628.4,29.8 629.3,29.1 630.1,28.5 630.9,27.9 631.7,27.3 632.4,26.7 633.2,26.1 633.9,25.6 634.6,25.0 635.3,24.5 635.9,24.0 636.5,23.5 637.1,23.0 637.6,22.6 638.1,22.1 638.6,21.7 639.1,21.2 639.6,20.8 640.0,20.4 640.3,20.1 640.7,19.8 641.0,19.5 641.3,19.2 641.5,19.0 646.0,16.6 700.0,15.6 813.0,15.0" fill="none" stroke="#0000ff" stroke-width="6.3" stroke-linejoin="round" />
<polyline points="531.5,206.5 532.4,203.9 533.5,200.7 534.8,196.9 536.2,192.7 537.8,188.1 539.5,183.2 541.2,178.1 543.0,172.9 544.8,167.8 546.5,162.7 548.2,157.8 549.8,153.2 551.4,148.6 553.0,143.9 554.7,139.0 556.4,134.1 558.0,129.2 559.7,124.3 561.3,119.6 562.9,115.0 564.4,110.8 565.8,106.8 567.0,103.2 568.1,100.0 569.0,97.3 569.8,95.0 570.5,93.1 571.1,91.6 571.6,90.2 572.0,89.1 572.4,88.1 572.7,87.1 573.1,86.2 573.4,85.3 573.8,84.2 574.2,83.0 574.6,81.7 575.0,80.5 575.4,79.3 575.7,78.1 576.1,77.0 576.4,75.8 576.7,74.7 577.0,73.5 577.4,72.4 577.8,71.2 578.2,69.9 578.6,68.6 579.1,67.2 579.5,65.8 580.1,64.3 580.6,62.8 581.1,61.3 581.7,59.8 582.2,58.2 582.8,56.7 583.3,55.2 583.9,53.7 584.5,52.3 585.0,51.0 585.6,49.7 586.1,48.4 586.7,47.2 587.3,45.9 587.9,44.7 588.5,43.5 589.0,42.4 589.6,41.2 590.1,40.2 590.7,39.2 591.1,38.2 591.6,37.3 592.0,36.5 592.4,35.7 592.8,35.0 593.2,34.3 593.5,33.7 593.8,33.1 594.1,32.5 594.4,32.0 594.7,31.5 594.9,31.0 595.2,30.5 595.4,30.0 595.6,29.5 595.8,29.0 595.9,28.6 596.0,28.1 596.1,27.7 596.2,27.3 596.3,26.9 596.4,26.6 596.4,26.2 596.5,26.0 596.6,25.7 596.6,25.5" fill="none" stroke="#007f00" stroke-width="6.8" stroke-linejoin="round" />
<polyline points="596.6,25.5 592.5,20.6 584.0,18.0 574.0,16.0 593.6,15.0 725.0,14.6 813.0,14.4" fill="none" stroke="#007f00" stroke-width="6.1" stroke-linejoin="round" />
<polyline points="598.4,27.0 592.5,25.6 598.6,24.0 591.5,22.4 596.6,20.8 587.0,19.2 591.0,17.6 571.5,14.6" fill="none" stroke="#007f00" stroke-width="1.3" stroke-linejoin="round" />
</g>
<text transform="translate(505.85,249.46) scale(1.0715,1)" font-size="33.64" font-family="Liberation Sans, sans-serif" font-weight="bold" fill="#000" stroke="#000" stroke-width="0.45">0.0</text>
<text transform="translate(575.60,249.46) scale(1.0715,1)" font-size="33.64" font-family="Liberation Sans, sans-serif" font-weight="bold" fill="#000" stroke="#000" stroke-width="0.45">0.2</text>
<text transform="translate(645.38,249.46) scale(1.0437,1)" font-size="33.64" font-family="Liberation Sans, sans-serif" font-weight="bold" fill="#000" stroke="#000" stroke-width="0.45">0.4</text>
<text transform="translate(715.10,249.46) scale(1.0675,1)" font-size="33.64" font-family="Liberation Sans, sans-serif" font-weight="bold" fill="#000" stroke="#000" stroke-width="0.45">0.6</text>
<text transform="translate(784.86,249.46) scale(1.0634,1)" font-size="33.64" font-family="Liberation Sans, sans-serif" font-weight="bold" fill="#000" stroke="#000" stroke-width="0.45">0.8</text>
<text transform="translate(467.81,227.47) scale(1.1029,1)" font-size="33.22" font-family="Liberation Sans, sans-serif" font-weight="bold" fill="#000" stroke="#000" stroke-width="0.45">10</text>
<text transform="translate(507.70,208.61) scale(1.1104,1)" font-size="19.21" font-family="Liberation Sans, sans-serif" font-weight="bold" fill="#000" stroke="#000" stroke-width="0.45">-5</text>
<text transform="translate(467.81,150.57) scale(1.1029,1)" font-size="33.22" font-family="Liberation Sans, sans-serif" font-weight="bold" fill="#000" stroke="#000" stroke-width="0.45">10</text>
<text transform="translate(507.69,131.66) scale(1.1407,1)" font-size="18.87" font-family="Liberation Sans, sans-serif" font-weight="bold" fill="#000" stroke="#000" stroke-width="0.45">-3</text>
<text transform="translate(467.81,73.67) scale(1.1029,1)" font-size="33.22" font-family="Liberation Sans, sans-serif" font-weight="bold" fill="#000" stroke="#000" stroke-width="0.45">10</text>
<text transform="translate(509.02,55.00) scale(0.9328,1)" font-size="19.49" font-family="Liberation Sans, sans-serif" font-weight="bold" fill="#000" stroke="#000" stroke-width="0.45">-1</text>
<text transform="translate(460.90,211.58) rotate(-90) scale(1.0665,1)" font-size="34.33" font-family="Liberation Sans, sans-serif" font-weight="bold" fill="#000" stroke="#000" stroke-width="0.45">I</text>
<text transform="translate(470.30,200.92) rotate(-90) scale(0.8438,1)" font-size="27.64" font-family="Liberation Sans, sans-serif" font-weight="bold" fill="#000" stroke="#000" stroke-width="0.45">D</text>
<text transform="translate(459.69,172.45) rotate(-90) scale(1.0901,1)" font-size="30.88" font-family="Liberation Sans, sans-serif" font-weight="bold" fill="#000" stroke="#000" stroke-width="0.45">[A/cm]</text>
<text transform="translate(621.13,279.20) scale(0.9665,1)" font-size="34.62" font-family="Liberation Sans, sans-serif" font-weight="bold" fill="#000" stroke="#000" stroke-width="0.45">V</text>
<text transform="translate(644.44,292.39) scale(1.0164,1)" font-size="21.20" font-family="Liberation Sans, sans-serif" font-weight="bold" fill="#000" stroke="#000" stroke-width="0.45">G</text>
<text transform="translate(670.75,278.84) scale(1.0890,1)" font-size="32.60" font-family="Liberation Sans, sans-serif" font-weight="bold" fill="#000" stroke="#000" stroke-width="0.45">[V]</text>
<text transform="translate(530.92,53.01) scale(1.0583,1)" font-size="41.39" font-family="Liberation Sans, sans-serif" font-weight="bold" fill="#000" stroke="#000" stroke-width="0.45">(b)</text>
<line x1="727.20" y1="90.30" x2="749.40" y2="90.30" stroke="#000" stroke-width="6" />
<text transform="translate(756.52,95.08) scale(1.0456,1)" font-size="22.47" font-family="Liberation Sans, sans-serif" font-weight="bold" fill="#000" stroke="#000" stroke-width="0.45">0nm</text>
<line x1="727.20" y1="124.10" x2="749.40" y2="124.10" stroke="#ff0000" stroke-width="6" />
<text transform="translate(757.05,129.10) scale(1.0045,1)" font-size="23.13" font-family="Liberation Sans, sans-serif" font-weight="bold" fill="#000" stroke="#000" stroke-width="0.45">4nm</text>
<line x1="727.20" y1="159.10" x2="749.40" y2="159.10" stroke="#0000ff" stroke-width="6" />
<text transform="translate(756.40,164.10) scale(1.0187,1)" font-size="23.13" font-family="Liberation Sans, sans-serif" font-weight="bold" fill="#000" stroke="#000" stroke-width="0.45">7nm</text>
<line x1="727.20" y1="191.30" x2="749.40" y2="191.30" stroke="#007f00" stroke-width="6" />
<text transform="translate(756.70,196.08) scale(1.0417,1)" font-size="22.47" font-family="Liberation Sans, sans-serif" font-weight="bold" fill="#000" stroke="#000" stroke-width="0.45">8nm</text>
<text transform="translate(766.51,69.30) scale(1.0086,1)" font-size="18.91" font-family="Liberation Sans, sans-serif" font-weight="bold" fill="#000" stroke="#000" stroke-width="0.45">T</text>
<text transform="translate(778.26,76.10) scale(1.0762,1)" font-size="16.29" font-family="Liberation Sans, sans-serif" font-weight="bold" fill="#000" stroke="#000" stroke-width="0.45">FE</text>
<text transform="translate(633.87,168.78) scale(1.0641,1)" font-size="22.05" font-family="Liberation Sans, sans-serif" font-weight="bold" fill="#000" stroke="#000" stroke-width="0.45">NSFET</text><text transform="translate(622.79,198.30) scale(0.9714,1)" font-size="22.55" font-family="Liberation Sans, sans-serif" font-weight="bold" fill="#000" stroke="#000" stroke-width="0.45">V</text><text transform="translate(637.49,204.70) scale(1.0758,1)" font-size="12.95" font-family="Liberation Sans, sans-serif" font-weight="bold" fill="#000" stroke="#000" stroke-width="0.45">D</text><text transform="translate(647.47,198.28) scale(1.0601,1)" font-size="22.05" font-family="Liberation Sans, sans-serif" font-weight="bold" fill="#000" stroke="#000" stroke-width="0.45">= 0.5V</text>
<rect x="87.35" y="373.35" width="34.55" height="137.25" fill="#ff3333" stroke="#1a1a1a" stroke-width="1.2" />
<rect x="151.85" y="344.60" width="35.55" height="166.00" fill="#000" stroke="#1a1a1a" stroke-width="1.2" />
<rect x="198.10" y="351.60" width="35.55" height="159.00" fill="#3333ff" stroke="#1a1a1a" stroke-width="1.2" />
<rect x="263.60" y="315.85" width="35.80" height="194.75" fill="#339933" stroke="#1a1a1a" stroke-width="1.2" />
<rect x="67.20" y="299.90" width="242.00" height="210.70" fill="none" stroke="#000" stroke-width="3.9" />
<line x1="61.65" y1="510.60" x2="67.20" y2="510.60" stroke="#000" stroke-width="3.6" />
<line x1="64.05" y1="493.85" x2="67.20" y2="493.85" stroke="#000" stroke-width="1.6" />
<line x1="61.65" y1="477.10" x2="67.20" y2="477.10" stroke="#000" stroke-width="3.6" />
<line x1="64.05" y1="460.35" x2="67.20" y2="460.35" stroke="#000" stroke-width="1.6" />
<line x1="61.65" y1="443.60" x2="67.20" y2="443.60" stroke="#000" stroke-width="3.6" />
<line x1="64.05" y1="426.85" x2="67.20" y2="426.85" stroke="#000" stroke-width="1.6" />
<line x1="61.65" y1="410.10" x2="67.20" y2="410.10" stroke="#000" stroke-width="3.6" />
<line x1="64.05" y1="393.35" x2="67.20" y2="393.35" stroke="#000" stroke-width="1.6" />
<line x1="61.65" y1="376.60" x2="67.20" y2="376.60" stroke="#000" stroke-width="3.6" />
<line x1="64.05" y1="359.85" x2="67.20" y2="359.85" stroke="#000" stroke-width="1.6" />
<line x1="61.65" y1="343.10" x2="67.20" y2="343.10" stroke="#000" stroke-width="3.6" />
<line x1="64.05" y1="326.35" x2="67.20" y2="326.35" stroke="#000" stroke-width="1.6" />
<line x1="61.65" y1="309.60" x2="67.20" y2="309.60" stroke="#000" stroke-width="3.6" />
<text transform="translate(42.41,523.46) scale(0.9335,1)" font-size="33.92" font-family="Liberation Sans, sans-serif" font-weight="bold" fill="#000" stroke="#000" stroke-width="0.45">0</text>
<text transform="translate(44.24,489.65) scale(0.6250,1)" font-size="34.91" font-family="Liberation Sans, sans-serif" font-weight="bold" fill="#000" stroke="#000" stroke-width="0.45">1</text>
<text transform="translate(42.58,455.50) scale(0.9108,1)" font-size="34.41" font-family="Liberation Sans, sans-serif" font-weight="bold" fill="#000" stroke="#000" stroke-width="0.45">2</text>
<text transform="translate(42.92,420.93) scale(0.8993,1)" font-size="33.80" font-family="Liberation Sans, sans-serif" font-weight="bold" fill="#000" stroke="#000" stroke-width="0.45">3</text>
<text transform="translate(43.18,387.20) scale(0.8101,1)" font-size="34.91" font-family="Liberation Sans, sans-serif" font-weight="bold" fill="#000" stroke="#000" stroke-width="0.45">4</text>
<text transform="translate(42.69,352.71) scale(0.8835,1)" font-size="34.41" font-family="Liberation Sans, sans-serif" font-weight="bold" fill="#000" stroke="#000" stroke-width="0.45">5</text>
<text transform="translate(42.51,318.56) scale(0.9191,1)" font-size="33.92" font-family="Liberation Sans, sans-serif" font-weight="bold" fill="#000" stroke="#000" stroke-width="0.45">6</text>
<text transform="translate(111.19,493.86) rotate(-90) scale(1.0706,1)" font-size="20.95" font-family="Liberation Sans, sans-serif" font-weight="bold" fill="#000" stroke="#000" stroke-width="0.45">Nanosheet</text>
<text transform="translate(179.39,504.86) rotate(-90) scale(1.0578,1)" font-size="21.22" font-family="Liberation Sans, sans-serif" font-weight="bold" fill="#fff" stroke="#fff" stroke-width="0.45">NC-Nanosheet</text>
<text transform="translate(224.59,495.27) rotate(-90) scale(1.0503,1)" font-size="21.50" font-family="Liberation Sans, sans-serif" font-weight="bold" fill="#000" stroke="#000" stroke-width="0.45">Nanowire</text>
<text transform="translate(289.38,480.48) rotate(-90) scale(1.0225,1)" font-size="22.31" font-family="Liberation Sans, sans-serif" font-weight="bold" fill="#000" stroke="#000" stroke-width="0.45">NC-Nanowire</text>
<line x1="70.75" y1="342.25" x2="175.75" y2="342.25" stroke="#ff0000" stroke-width="2.5" stroke-dasharray="2.4 2.0"/>
<circle cx="70.75" cy="342.25" r="3" fill="#ff0000"/><circle cx="175.75" cy="342.25" r="3" fill="#ff0000"/>
<line x1="68.50" y1="371.00" x2="148.75" y2="371.00" stroke="#ff0000" stroke-width="2.5" stroke-dasharray="2.4 2.0"/>
<circle cx="68.5" cy="371" r="3" fill="#ff0000"/><circle cx="148.75" cy="371" r="3" fill="#ff0000"/>
<line x1="178.75" y1="310.50" x2="298.40" y2="310.50" stroke="#0f72c4" stroke-width="2.5" stroke-dasharray="2.4 2.0"/>
<circle cx="178.75" cy="310.5" r="3.8" fill="#0f72c4"/><circle cx="298.4" cy="310.5" r="3.8" fill="#0f72c4"/>
<line x1="191.25" y1="347.75" x2="259.25" y2="347.75" stroke="#0f72c4" stroke-width="2.5" stroke-dasharray="2.4 2.0"/>
<circle cx="191.25" cy="347.75" r="2.4" fill="#0f72c4"/><circle cx="259.25" cy="347.75" r="2.4" fill="#0f72c4"/>
<text transform="translate(67.96,366.20) scale(0.8666,1)" font-size="25.76" font-family="Liberation Serif, serif" fill="#000" stroke="#000" stroke-width="0.45">ΔI</text>
<text transform="translate(95.53,367.77) scale(0.9789,1)" font-size="22.25" font-family="Liberation Sans, sans-serif" font-weight="bold" fill="#000" stroke="#000" stroke-width="0.45">=</text>
<text transform="translate(113.16,367.37) scale(0.8517,1)" font-size="23.18" font-family="Liberation Sans, sans-serif" font-weight="bold" fill="#000" stroke="#000" stroke-width="0.45">20%</text>
<text transform="translate(177.53,338.00) scale(0.9338,1)" font-size="24.85" font-family="Liberation Serif, serif" fill="#000" stroke="#000" stroke-width="0.45">ΔI</text>
<text transform="translate(206.30,338.30) scale(1.0392,1)" font-size="21.72" font-family="Liberation Sans, sans-serif" font-weight="bold" fill="#000" stroke="#000" stroke-width="0.45">=</text>
<text transform="translate(223.96,338.30) scale(0.8300,1)" font-size="23.66" font-family="Liberation Sans, sans-serif" font-weight="bold" fill="#000" stroke="#000" stroke-width="0.45">23%</text>
<text transform="translate(73.35,333.86) scale(1.0467,1)" font-size="41.18" font-family="Liberation Sans, sans-serif" font-weight="bold" fill="#000" stroke="#000" stroke-width="0.45">(c)</text>
<text transform="translate(19.66,491.67) rotate(-90) scale(1.2077,1)" font-size="28.89" font-family="Liberation Sans, sans-serif" font-weight="bold" fill="#000" stroke="#000" stroke-width="0.45">Log</text>
<text transform="translate(20.30,423.89) rotate(-90) scale(1.5267,1)" font-size="29.38" font-family="Liberation Sans, sans-serif" fill="#000" stroke="#000" stroke-width="0.45">(</text>
<text transform="translate(19.80,411.04) rotate(-90) scale(1.3983,1)" font-size="29.09" font-family="Liberation Sans, sans-serif" font-weight="bold" fill="#000" stroke="#000" stroke-width="0.45">I</text>
<text transform="translate(30.80,400.36) rotate(-90) scale(1.2758,1)" font-size="20.14" font-family="Liberation Sans, sans-serif" font-weight="bold" fill="#000" stroke="#000" stroke-width="0.45">on-off</text>
<text transform="translate(20.30,328.22) rotate(-90) scale(1.5267,1)" font-size="29.38" font-family="Liberation Sans, sans-serif" fill="#000" stroke="#000" stroke-width="0.45">)</text>
<line x1="437.50" y1="301.60" x2="437.50" y2="510.50" stroke="#c8c8c8" stroke-width="1" stroke-dasharray="1 1.6"/>
<line x1="514.20" y1="301.60" x2="514.20" y2="510.50" stroke="#c8c8c8" stroke-width="1" stroke-dasharray="1 1.6"/>
<line x1="592.00" y1="301.60" x2="592.00" y2="510.50" stroke="#c8c8c8" stroke-width="1" stroke-dasharray="1 1.6"/>
<line x1="398.60" y1="484.43" x2="641.00" y2="484.43" stroke="#c8c8c8" stroke-width="1" stroke-dasharray="1 1.6"/>
<line x1="398.60" y1="432.27" x2="641.00" y2="432.27" stroke="#c8c8c8" stroke-width="1" stroke-dasharray="1 1.6"/>
<line x1="398.60" y1="380.12" x2="641.00" y2="380.12" stroke="#c8c8c8" stroke-width="1" stroke-dasharray="1 1.6"/>
<line x1="398.60" y1="327.98" x2="641.00" y2="327.98" stroke="#c8c8c8" stroke-width="1" stroke-dasharray="1 1.6"/>
<clipPath id="clipd"><rect x="398.6" y="301.6" width="242.39999999999998" height="208.89999999999998"/></clipPath>
<g clip-path="url(#clipd)">
<polyline points="399.5,473.2 400.3,472.9 401.3,472.6 402.5,472.3 403.8,471.8 405.3,471.4 406.8,470.9 408.3,470.4 409.9,469.9 411.3,469.4 412.7,468.9 413.9,468.4 415.0,468.0 415.9,467.6 416.7,467.2 417.4,466.9 418.0,466.6 418.6,466.2 419.1,465.9 419.6,465.5 420.1,465.2 420.6,464.8 421.2,464.3 421.8,463.8 422.5,463.3 423.2,462.7 424.0,462.0 424.8,461.3 425.6,460.6 426.4,459.8 427.2,459.0 428.0,458.2 428.9,457.4 429.8,456.6 430.7,455.8 431.6,455.0 432.5,454.3 433.5,453.6 434.4,452.9 435.4,452.3 436.5,451.7 437.5,451.0 438.6,450.4 439.7,449.8 440.7,449.2 441.8,448.5 442.9,447.9 444.0,447.3 445.0,446.7 446.0,446.1 447.1,445.5 448.1,444.9 449.2,444.4 450.2,443.8 451.2,443.3 452.3,442.7 453.3,442.1 454.4,441.5 455.4,440.8 456.5,440.1 457.5,439.4 458.5,438.6 459.5,437.9 460.4,437.1 461.4,436.3 462.3,435.5 463.3,434.6 464.3,433.7 465.3,432.7 466.3,431.7 467.5,430.6 468.7,429.5 470.0,428.2 471.4,426.8 472.9,425.3 474.5,423.7 476.1,422.0 477.8,420.2 479.5,418.4 481.3,416.6 483.1,414.8 484.8,413.0 486.6,411.3 488.3,409.8 490.0,408.3 491.7,406.9 493.4,405.6 495.1,404.3 496.9,403.1 498.6,401.9 500.3,400.8 502.0,399.7 503.7,398.6 505.4,397.6 507.0,396.7 508.5,395.8 510.0,395.0 511.4,394.3 512.7,393.6 514.0,393.1 515.2,392.6 516.4,392.1 517.5,391.7 518.6,391.3 519.8,391.0 521.0,390.6 522.3,390.3 523.6,389.9 525.0,389.5 526.5,389.1 527.9,388.7 529.4,388.3 530.9,387.9 532.5,387.5 534.1,387.1 535.7,386.8 537.4,386.4 539.2,386.0 541.0,385.7 543.0,385.3 545.0,385.0 547.2,384.7 549.5,384.3 551.9,384.0 554.4,383.6 557.0,383.3 559.7,383.0 562.3,382.7 565.0,382.4 567.6,382.1 570.2,381.8 572.6,381.5 575.0,381.2 577.2,381.0 579.3,380.8 581.2,380.5 583.1,380.3 584.9,380.1 586.8,380.0 588.6,379.8 590.6,379.6 592.7,379.4 594.9,379.2 597.3,379.0 600.0,378.8 603.0,378.6 606.5,378.4 610.3,378.1 614.3,377.9 618.4,377.6 622.6,377.4 626.6,377.1 630.5,376.9 634.1,376.7 637.2,376.5 639.9,376.4 642.0,376.2" fill="none" stroke="#0000ff" stroke-width="6" stroke-linejoin="round" />
<polyline points="399.5,459.6 400.3,459.4 401.3,459.0 402.4,458.7 403.7,458.3 405.1,457.8 406.6,457.3 408.1,456.9 409.7,456.4 411.1,455.9 412.6,455.4 413.9,455.0 415.0,454.6 416.0,454.3 416.9,454.0 417.8,453.7 418.6,453.4 419.3,453.2 420.0,452.9 420.8,452.7 421.5,452.4 422.3,452.1 423.1,451.7 424.0,451.3 425.0,450.8 426.1,450.2 427.2,449.6 428.4,448.9 429.6,448.2 430.9,447.5 432.2,446.7 433.5,445.9 434.8,445.1 436.1,444.3 437.4,443.5 438.7,442.8 440.0,442.1 441.3,441.4 442.6,440.7 443.9,440.1 445.2,439.4 446.5,438.8 447.8,438.1 449.1,437.5 450.4,436.8 451.6,436.2 452.8,435.6 453.9,435.0 455.0,434.4 456.0,433.9 456.9,433.4 457.7,433.0 458.5,432.6 459.3,432.2 460.0,431.8 460.7,431.4 461.5,430.9 462.3,430.3 463.1,429.7 464.0,428.9 465.0,428.0 466.1,426.9 467.2,425.8 468.4,424.5 469.6,423.1 470.9,421.7 472.2,420.1 473.5,418.6 474.8,417.0 476.1,415.4 477.4,413.9 478.7,412.3 480.0,410.8 481.2,409.3 482.5,407.7 483.8,406.2 485.0,404.6 486.2,403.0 487.5,401.4 488.8,399.8 490.0,398.2 491.2,396.7 492.5,395.2 493.8,393.8 495.0,392.5 496.2,391.3 497.5,390.1 498.7,389.0 499.9,388.0 501.1,387.0 502.4,386.0 503.6,385.0 504.9,384.1 506.1,383.1 507.4,382.1 508.7,381.1 510.0,380.0 511.3,378.9 512.7,377.7 514.1,376.6 515.5,375.4 516.9,374.2 518.3,373.0 519.7,371.8 521.2,370.6 522.6,369.4 524.1,368.3 525.5,367.1 527.0,366.0 528.4,364.9 529.8,363.8 531.1,362.7 532.5,361.7 533.8,360.6 535.2,359.6 536.6,358.5 538.1,357.5 539.6,356.5 541.3,355.5 543.1,354.5 545.0,353.5 547.1,352.5 549.4,351.5 551.8,350.5 554.3,349.5 556.9,348.5 559.6,347.5 562.2,346.6 564.9,345.7 567.6,344.8 570.2,344.0 572.6,343.2 575.0,342.5 577.2,341.9 579.3,341.3 581.2,340.8 583.1,340.4 584.9,340.0 586.8,339.6 588.6,339.2 590.6,338.9 592.7,338.6 594.9,338.2 597.3,337.9 600.0,337.5 603.0,337.1 606.5,336.7 610.3,336.2 614.3,335.8 618.4,335.4 622.6,334.9 626.6,334.5 630.5,334.1 634.1,333.8 637.2,333.5 639.9,333.2 642.0,333.0" fill="none" stroke="#ff0000" stroke-width="6" stroke-linejoin="round" />
<polyline points="399.5,416.4 401.1,416.3 403.2,416.2 405.6,416.1 408.3,415.9 411.2,415.8 414.3,415.6 417.5,415.4 420.7,415.2 423.9,415.0 426.9,414.7 429.8,414.5 432.5,414.2 435.0,413.9 437.5,413.6 439.9,413.2 442.3,412.9 444.6,412.5 446.9,412.1 449.2,411.7 451.4,411.3 453.6,410.8 455.8,410.4 457.9,410.0 460.0,409.6 462.1,409.2 464.0,408.8 466.0,408.5 467.9,408.1 469.7,407.7 471.6,407.4 473.4,407.0 475.2,406.6 477.0,406.1 478.8,405.7 480.6,405.2 482.5,404.6 484.4,404.0 486.3,403.4 488.2,402.7 490.1,402.0 492.0,401.3 493.9,400.6 495.8,399.8 497.7,399.0 499.6,398.2 501.4,397.4 503.2,396.6 505.0,395.7 506.8,394.8 508.5,393.9 510.3,393.0 512.0,392.0 513.8,391.0 515.5,390.0 517.1,389.0 518.8,388.0 520.4,387.0 522.0,386.0 523.5,385.0 525.0,384.0 526.4,383.0 527.8,382.0 529.1,381.1 530.4,380.1 531.7,379.1 532.9,378.2 534.1,377.2 535.3,376.2 536.5,375.2 537.7,374.1 538.8,373.1 540.0,372.0 541.2,370.9 542.3,369.7 543.4,368.6 544.6,367.4 545.7,366.2 546.8,364.9 547.9,363.7 548.9,362.5 550.0,361.2 551.0,360.0 552.0,358.7 553.0,357.5 554.0,356.3 554.9,355.0 555.9,353.8 556.8,352.5 557.7,351.3 558.6,350.0 559.4,348.8 560.3,347.5 561.1,346.3 561.9,345.0 562.7,343.8 563.5,342.5 564.3,341.2 565.0,340.0 565.7,338.7 566.4,337.4 567.1,336.1 567.8,334.8 568.5,333.6 569.1,332.3 569.7,331.1 570.3,329.9 570.9,328.7 571.5,327.5 572.0,326.4 572.5,325.3 573.0,324.2 573.5,323.2 573.9,322.1 574.3,321.1 574.8,320.1 575.2,319.1 575.6,318.1 576.1,317.1 576.5,316.1 577.0,315.0 577.5,313.9 578.1,312.8 578.7,311.6 579.3,310.4 579.9,309.2 580.5,308.0 581.1,306.8 581.6,305.7 582.2,304.6 582.7,303.7 583.1,302.8 583.5,302.0 583.8,301.3 584.1,300.8 584.3,300.3 584.5,299.9 584.7,299.5 584.9,299.2 585.0,298.9 585.1,298.7 585.2,298.5 585.2,298.3 585.3,298.2 585.4,298.0" fill="none" stroke="#0f8c0f" stroke-width="6" stroke-linejoin="round" />
<polyline points="399.5,403.0 401.1,402.9 403.2,402.7 405.6,402.6 408.3,402.4 411.2,402.1 414.3,401.9 417.5,401.7 420.7,401.4 423.9,401.2 426.9,400.9 429.8,400.6 432.5,400.3 435.0,400.0 437.5,399.7 439.9,399.4 442.3,399.1 444.6,398.8 446.9,398.4 449.2,398.1 451.4,397.7 453.6,397.3 455.8,396.9 457.9,396.5 460.0,396.0 462.1,395.5 464.0,395.0 466.0,394.5 467.9,394.0 469.7,393.5 471.6,392.9 473.4,392.3 475.2,391.7 477.0,391.1 478.8,390.4 480.6,389.7 482.5,389.0 484.4,388.2 486.3,387.5 488.2,386.6 490.1,385.8 492.0,384.9 493.9,384.0 495.8,383.1 497.7,382.2 499.6,381.2 501.4,380.3 503.2,379.3 505.0,378.3 506.8,377.3 508.5,376.2 510.3,375.2 512.0,374.1 513.8,373.0 515.5,371.9 517.1,370.8 518.8,369.6 520.4,368.5 522.0,367.3 523.5,366.2 525.0,365.0 526.4,363.8 527.8,362.7 529.2,361.5 530.5,360.3 531.7,359.1 533.0,357.9 534.2,356.7 535.4,355.5 536.5,354.2 537.7,353.0 538.9,351.7 540.0,350.5 541.1,349.2 542.3,348.0 543.4,346.7 544.4,345.4 545.5,344.1 546.6,342.8 547.6,341.5 548.6,340.2 549.6,338.9 550.6,337.6 551.6,336.3 552.5,335.0 553.4,333.7 554.3,332.5 555.2,331.2 556.1,330.0 556.9,328.8 557.7,327.5 558.5,326.3 559.4,325.1 560.1,323.8 560.9,322.6 561.7,321.3 562.5,320.0 563.3,318.7 564.1,317.2 564.9,315.8 565.7,314.3 566.5,312.8 567.3,311.3 568.1,309.8 568.8,308.4 569.5,307.1 570.2,305.9 570.7,304.7 571.2,303.8 571.7,302.9 572.1,302.1 572.4,301.4 572.7,300.8 573.0,300.3 573.2,299.9 573.4,299.5 573.5,299.1 573.6,298.8 573.8,298.5 573.9,298.2 574.0,298.0" fill="none" stroke="#ff8c19" stroke-width="6" stroke-linejoin="round" />
</g>
<line x1="398.60" y1="299.30" x2="398.60" y2="512.75" stroke="#000" stroke-width="4.8" />
<line x1="398.60" y1="301.60" x2="641.00" y2="301.60" stroke="#000" stroke-width="4.6" />
<line x1="641.00" y1="299.30" x2="641.00" y2="512.75" stroke="#000" stroke-width="3.5" />
<line x1="398.60" y1="510.50" x2="641.00" y2="510.50" stroke="#000" stroke-width="4.5" />
<line x1="398.00" y1="510.50" x2="398.00" y2="516.25" stroke="#000" stroke-width="3.8" />
<line x1="437.11" y1="510.50" x2="437.11" y2="513.75" stroke="#000" stroke-width="1.4" />
<line x1="476.21" y1="510.50" x2="476.21" y2="516.25" stroke="#000" stroke-width="3.8" />
<line x1="515.32" y1="510.50" x2="515.32" y2="513.75" stroke="#000" stroke-width="1.4" />
<line x1="554.42" y1="510.50" x2="554.42" y2="516.25" stroke="#000" stroke-width="3.8" />
<line x1="593.52" y1="510.50" x2="593.52" y2="513.75" stroke="#000" stroke-width="1.4" />
<line x1="632.63" y1="510.50" x2="632.63" y2="516.25" stroke="#000" stroke-width="3.8" />
<line x1="392.85" y1="510.50" x2="398.60" y2="510.50" stroke="#000" stroke-width="3.8" />
<line x1="392.85" y1="458.35" x2="398.60" y2="458.35" stroke="#000" stroke-width="3.8" />
<line x1="392.85" y1="406.20" x2="398.60" y2="406.20" stroke="#000" stroke-width="3.8" />
<line x1="392.85" y1="354.05" x2="398.60" y2="354.05" stroke="#000" stroke-width="3.8" />
<line x1="392.85" y1="301.90" x2="398.60" y2="301.90" stroke="#000" stroke-width="3.8" />
<text transform="translate(376.74,545.06) scale(0.9178,1)" font-size="33.64" font-family="Liberation Sans, sans-serif" font-weight="bold" fill="#000" stroke="#000" stroke-width="0.45">0.0</text>
<text transform="translate(454.95,545.06) scale(0.9161,1)" font-size="33.64" font-family="Liberation Sans, sans-serif" font-weight="bold" fill="#000" stroke="#000" stroke-width="0.45">0.9</text>
<text transform="translate(532.37,545.06) scale(0.9284,1)" font-size="33.64" font-family="Liberation Sans, sans-serif" font-weight="bold" fill="#000" stroke="#000" stroke-width="0.45">1.8</text>
<text transform="translate(611.53,545.40) scale(0.9048,1)" font-size="34.12" font-family="Liberation Sans, sans-serif" font-weight="bold" fill="#000" stroke="#000" stroke-width="0.45">2.7</text>
<text transform="translate(373.00,520.68) scale(1.0133,1)" font-size="31.66" font-family="Liberation Sans, sans-serif" font-weight="bold" fill="#000" stroke="#000" stroke-width="0.45">0</text>
<text transform="translate(375.26,468.85) scale(0.6565,1)" font-size="32.58" font-family="Liberation Sans, sans-serif" font-weight="bold" fill="#000" stroke="#000" stroke-width="0.45">1</text>
<text transform="translate(373.17,416.70) scale(0.9887,1)" font-size="32.11" font-family="Liberation Sans, sans-serif" font-weight="bold" fill="#000" stroke="#000" stroke-width="0.45">2</text>
<text transform="translate(373.51,364.16) scale(0.9763,1)" font-size="31.55" font-family="Liberation Sans, sans-serif" font-weight="bold" fill="#000" stroke="#000" stroke-width="0.45">3</text>
<text transform="translate(373.77,312.40) scale(0.8794,1)" font-size="32.58" font-family="Liberation Sans, sans-serif" font-weight="bold" fill="#000" stroke="#000" stroke-width="0.45">4</text>
<circle cx="565" cy="320.9" r="15.8" fill="none" stroke="#000" stroke-width="3.6" stroke-dasharray="3.3 4.97"/>
<ellipse cx="615.6" cy="356.25" rx="16.6" ry="29.6" fill="none" stroke="#000" stroke-width="1.6"/>
<text transform="translate(513.21,321.39) scale(0.9238,1)" font-size="21.48" font-family="Liberation Sans, sans-serif" font-weight="bold" fill="#000" stroke="#000" stroke-width="0.45">C</text>
<text transform="translate(526.78,327.20) scale(0.9020,1)" font-size="13.96" font-family="Liberation Sans, sans-serif" font-weight="bold" fill="#000" stroke="#000" stroke-width="0.45">FE</text>
<text transform="translate(586.99,397.80) scale(1.0041,1)" font-size="20.07" font-family="Liberation Sans, sans-serif" font-weight="bold" fill="#000" stroke="#000" stroke-width="0.45">C</text>
<text transform="translate(600.74,403.26) scale(0.9559,1)" font-size="13.85" font-family="Liberation Sans, sans-serif" font-weight="bold" fill="#000" stroke="#000" stroke-width="0.45">MOS</text>
<line x1="405.00" y1="337.50" x2="424.50" y2="337.50" stroke="#ff8c19" stroke-width="6" />
<text transform="translate(430.40,342.10) scale(0.9095,1)" font-size="21.53" font-family="Liberation Sans, sans-serif" font-weight="bold" fill="#000" stroke="#000" stroke-width="0.45">T</text>
<text transform="translate(441.95,348.30) scale(0.9011,1)" font-size="14.55" font-family="Liberation Sans, sans-serif" font-weight="bold" fill="#000" stroke="#000" stroke-width="0.45">FE</text>
<text transform="translate(458.58,342.28) scale(0.9457,1)" font-size="21.77" font-family="Liberation Sans, sans-serif" font-weight="bold" fill="#000" stroke="#000" stroke-width="0.45">= 8nm</text>
<line x1="405.00" y1="362.00" x2="424.50" y2="362.00" stroke="#0f8c0f" stroke-width="6" />
<text transform="translate(430.40,366.60) scale(0.9095,1)" font-size="21.53" font-family="Liberation Sans, sans-serif" font-weight="bold" fill="#000" stroke="#000" stroke-width="0.45">T</text>
<text transform="translate(441.95,372.80) scale(0.9011,1)" font-size="14.55" font-family="Liberation Sans, sans-serif" font-weight="bold" fill="#000" stroke="#000" stroke-width="0.45">FE</text>
<text transform="translate(458.58,367.00) scale(0.9190,1)" font-size="22.40" font-family="Liberation Sans, sans-serif" font-weight="bold" fill="#000" stroke="#000" stroke-width="0.45">= 7nm</text>
<line x1="489.50" y1="440.30" x2="508.80" y2="440.30" stroke="#ff0000" stroke-width="6.8" />
<text transform="translate(522.05,444.58) scale(0.9306,1)" font-size="22.31" font-family="Liberation Sans, sans-serif" font-weight="bold" fill="#000" stroke="#000" stroke-width="0.45">Nanosheet</text>
<line x1="489.50" y1="464.30" x2="508.80" y2="464.30" stroke="#0000ff" stroke-width="6.8" />
<text transform="translate(522.07,468.58) scale(0.9203,1)" font-size="22.31" font-family="Liberation Sans, sans-serif" font-weight="bold" fill="#000" stroke="#000" stroke-width="0.45">Nanowire</text>
<text transform="translate(522.69,496.60) scale(0.9280,1)" font-size="23.27" font-family="Liberation Sans, sans-serif" font-weight="bold" fill="#000" stroke="#000" stroke-width="0.45">V</text>
<text transform="translate(536.40,505.60) scale(0.8296,1)" font-size="14.84" font-family="Liberation Sans, sans-serif" font-weight="bold" fill="#000" stroke="#000" stroke-width="0.45">D</text>
<text transform="translate(545.20,496.57) scale(0.8709,1)" font-size="22.90" font-family="Liberation Sans, sans-serif" font-weight="bold" fill="#000" stroke="#000" stroke-width="0.45">= 0.05V</text>
<text transform="translate(432.18,496.99) scale(0.9600,1)" font-size="44.40" font-family="Liberation Sans, sans-serif" font-weight="bold" fill="#000" stroke="#000" stroke-width="0.45">(d)</text>
<text transform="translate(430.64,569.66) scale(1.0711,1)" font-size="27.04" font-family="Liberation Sans, sans-serif" font-weight="bold" fill="#000" stroke="#000" stroke-width="0.45">Q</text>
<text transform="translate(454.47,587.61) scale(0.9663,1)" font-size="18.94" font-family="Liberation Sans, sans-serif" font-weight="bold" fill="#000" stroke="#000" stroke-width="0.45">G</text>
<text transform="translate(477.24,573.84) scale(0.8715,1)" font-size="32.60" font-family="Liberation Sans, sans-serif" font-weight="bold" fill="#000" stroke="#000" stroke-width="0.45">[</text>
<text transform="translate(485.20,574.33) scale(1.0633,1)" font-size="32.89" font-family="Liberation Serif, serif" fill="#000" stroke="#000" stroke-width="0.45">μ</text>
<text transform="translate(503.38,573.39) scale(1.0048,1)" font-size="30.34" font-family="Liberation Sans, sans-serif" font-weight="bold" fill="#000" stroke="#000" stroke-width="0.45">C/cm</text>
<text transform="translate(577.26,566.00) scale(1.0986,1)" font-size="20.65" font-family="Liberation Sans, sans-serif" font-weight="bold" fill="#000" stroke="#000" stroke-width="0.45">2</text>
<text transform="translate(591.71,573.84) scale(0.8944,1)" font-size="32.60" font-family="Liberation Sans, sans-serif" font-weight="bold" fill="#000" stroke="#000" stroke-width="0.45">]</text>
<text transform="translate(354.67,498.97) rotate(-90) scale(0.8939,1)" font-size="32.79" font-family="Liberation Sans, sans-serif" font-weight="bold" fill="#000" stroke="#000" stroke-width="0.45">C</text>
<text transform="translate(368.79,475.40) rotate(-90) scale(0.9728,1)" font-size="20.64" font-family="Liberation Sans, sans-serif" font-weight="bold" fill="#000" stroke="#000" stroke-width="0.45">G</text>
<text transform="translate(356.37,454.93) rotate(-90) scale(1.0370,1)" font-size="33.89" font-family="Liberation Sans, sans-serif" font-weight="bold" fill="#000" stroke="#000" stroke-width="0.45">[</text>
<text transform="translate(355.48,446.07) rotate(-90) scale(1.0961,1)" font-size="34.96" font-family="Liberation Serif, serif" fill="#000" stroke="#000" stroke-width="0.45">μ</text>
<text transform="translate(354.38,427.56) rotate(-90) scale(1.1637,1)" font-size="31.14" font-family="Liberation Sans, sans-serif" font-weight="bold" fill="#000" stroke="#000" stroke-width="0.45">F/cm</text>
<text transform="translate(339.00,343.76) rotate(-90) scale(1.1078,1)" font-size="21.22" font-family="Liberation Sans, sans-serif" font-weight="bold" fill="#000" stroke="#000" stroke-width="0.45">2</text>
<text transform="translate(356.37,328.55) rotate(-90) scale(1.0370,1)" font-size="33.89" font-family="Liberation Sans, sans-serif" font-weight="bold" fill="#000" stroke="#000" stroke-width="0.45">]</text>
<line x1="780.00" y1="300.60" x2="780.00" y2="507.80" stroke="#c8c8c8" stroke-width="1" stroke-dasharray="1 1.6"/>
<line x1="834.20" y1="300.60" x2="834.20" y2="507.80" stroke="#c8c8c8" stroke-width="1" stroke-dasharray="1 1.6"/>
<line x1="888.40" y1="300.60" x2="888.40" y2="507.80" stroke="#c8c8c8" stroke-width="1" stroke-dasharray="1 1.6"/>
<line x1="942.60" y1="300.60" x2="942.60" y2="507.80" stroke="#c8c8c8" stroke-width="1" stroke-dasharray="1 1.6"/>
<line x1="726.20" y1="369.00" x2="968.90" y2="369.00" stroke="#c8c8c8" stroke-width="1" stroke-dasharray="1 1.6"/>
<line x1="726.20" y1="439.30" x2="968.90" y2="439.30" stroke="#c8c8c8" stroke-width="1" stroke-dasharray="1 1.6"/>
<line x1="749.57" y1="473.76" x2="763.13" y2="466.49" stroke="#ff0000" stroke-width="6" />
<line x1="779.94" y1="457.63" x2="793.46" y2="450.62" stroke="#ff0000" stroke-width="6" />
<line x1="809.77" y1="440.93" x2="824.33" y2="431.07" stroke="#ff0000" stroke-width="6" />
<line x1="839.94" y1="420.24" x2="854.76" y2="409.71" stroke="#ff0000" stroke-width="6" />
<line x1="869.73" y1="398.03" x2="885.67" y2="384.42" stroke="#ff0000" stroke-width="6" />
<line x1="900.14" y1="372.10" x2="915.96" y2="358.65" stroke="#ff0000" stroke-width="6" />
<line x1="929.29" y1="345.21" x2="947.41" y2="323.49" stroke="#ff0000" stroke-width="6" />
<circle cx="741.2" cy="478.25" r="6.4" fill="#fff" stroke="#ff0000" stroke-width="1.4"/><path d="M734.8000000000001,478.25 A6.4,6.4 0 0 1 747.6,478.25 Z" fill="#ff0000"/>
<circle cx="771.5" cy="462" r="6.4" fill="#fff" stroke="#ff0000" stroke-width="1.4"/><path d="M765.1,462 A6.4,6.4 0 0 1 777.9,462 Z" fill="#ff0000"/>
<circle cx="801.9" cy="446.25" r="6.4" fill="#fff" stroke="#ff0000" stroke-width="1.4"/><path d="M795.5,446.25 A6.4,6.4 0 0 1 808.3,446.25 Z" fill="#ff0000"/>
<circle cx="832.2" cy="425.75" r="6.4" fill="#fff" stroke="#ff0000" stroke-width="1.4"/><path d="M825.8000000000001,425.75 A6.4,6.4 0 0 1 838.6,425.75 Z" fill="#ff0000"/>
<circle cx="862.5" cy="404.2" r="6.4" fill="#fff" stroke="#ff0000" stroke-width="1.4"/><path d="M856.1,404.2 A6.4,6.4 0 0 1 868.9,404.2 Z" fill="#ff0000"/>
<circle cx="892.9" cy="378.25" r="6.4" fill="#fff" stroke="#ff0000" stroke-width="1.4"/><path d="M886.5,378.25 A6.4,6.4 0 0 1 899.3,378.25 Z" fill="#ff0000"/>
<circle cx="923.2" cy="352.5" r="6.4" fill="#fff" stroke="#ff0000" stroke-width="1.4"/><path d="M916.8000000000001,352.5 A6.4,6.4 0 0 1 929.6,352.5 Z" fill="#ff0000"/>
<circle cx="953.5" cy="316.2" r="6.4" fill="#fff" stroke="#ff0000" stroke-width="1.4"/><path d="M947.1,316.2 A6.4,6.4 0 0 1 959.9,316.2 Z" fill="#ff0000"/>
<polyline points="741.2,489.2 801.9,474.5 862.5,441.2 923.2,384.6 953.5,344.0" fill="none" stroke="#0000ff" stroke-width="5.8" stroke-linejoin="round" />
<line x1="760.78" y1="339.66" x2="771.72" y2="345.84" stroke="#ff0000" stroke-width="6" />
<line x1="787.27" y1="356.62" x2="799.48" y2="366.88" stroke="#ff0000" stroke-width="6" />
<line x1="814.11" y1="379.00" x2="826.39" y2="389.00" stroke="#ff0000" stroke-width="6" />
<line x1="841.25" y1="400.84" x2="854.50" y2="411.16" stroke="#ff0000" stroke-width="6" />
<line x1="868.72" y1="423.72" x2="880.78" y2="435.78" stroke="#ff0000" stroke-width="6" />
<line x1="894.63" y1="448.77" x2="907.37" y2="459.98" stroke="#ff0000" stroke-width="6" />
<line x1="921.63" y1="472.53" x2="934.87" y2="484.22" stroke="#ff0000" stroke-width="6" />
<circle cx="752.5" cy="335" r="6.4" fill="#fff" stroke="#ff0000" stroke-width="1.4"/><path d="M746.1,335 A6.4,6.4 0 0 1 758.9,335 Z" fill="#ff0000"/>
<circle cx="780" cy="350.5" r="6.4" fill="#fff" stroke="#ff0000" stroke-width="1.4"/><path d="M773.6,350.5 A6.4,6.4 0 0 1 786.4,350.5 Z" fill="#ff0000"/>
<circle cx="806.75" cy="373" r="6.4" fill="#fff" stroke="#ff0000" stroke-width="1.4"/><path d="M800.35,373 A6.4,6.4 0 0 1 813.15,373 Z" fill="#ff0000"/>
<circle cx="833.75" cy="395" r="6.4" fill="#fff" stroke="#ff0000" stroke-width="1.4"/><path d="M827.35,395 A6.4,6.4 0 0 1 840.15,395 Z" fill="#ff0000"/>
<circle cx="862" cy="417" r="6.4" fill="#fff" stroke="#ff0000" stroke-width="1.4"/><path d="M855.6,417 A6.4,6.4 0 0 1 868.4,417 Z" fill="#ff0000"/>
<circle cx="887.5" cy="442.5" r="6.4" fill="#fff" stroke="#ff0000" stroke-width="1.4"/><path d="M881.1,442.5 A6.4,6.4 0 0 1 893.9,442.5 Z" fill="#ff0000"/>
<circle cx="914.5" cy="466.25" r="6.4" fill="#fff" stroke="#ff0000" stroke-width="1.4"/><path d="M908.1,466.25 A6.4,6.4 0 0 1 920.9,466.25 Z" fill="#ff0000"/>
<circle cx="942" cy="490.5" r="6.4" fill="#fff" stroke="#ff0000" stroke-width="1.4"/><path d="M935.6,490.5 A6.4,6.4 0 0 1 948.4,490.5 Z" fill="#ff0000"/>
<polyline points="752.5,355.8 941.2,473.0" fill="none" stroke="#0000ff" stroke-width="5.8" stroke-linejoin="round" />
<ellipse cx="807.5" cy="468" rx="23.4" ry="32.8" fill="none" stroke="#000" stroke-width="1.7" stroke-dasharray="3.4 1.3"/>
<ellipse cx="912.5" cy="469.4" rx="23.4" ry="32.8" fill="none" stroke="#000" stroke-width="1.7" stroke-dasharray="3.4 1.3"/>
<line x1="726.20" y1="300.60" x2="726.20" y2="507.80" stroke="#000" stroke-width="4.0" />
<line x1="726.20" y1="300.60" x2="968.90" y2="300.60" stroke="#000" stroke-width="4.9" />
<line x1="968.90" y1="300.60" x2="968.90" y2="507.80" stroke="#000" stroke-width="3.9" />
<line x1="726.20" y1="507.80" x2="968.90" y2="507.80" stroke="#000" stroke-width="4.6" />
<line x1="741.20" y1="507.80" x2="741.20" y2="513.20" stroke="#000" stroke-width="4.0" />
<line x1="771.53" y1="507.80" x2="771.53" y2="513.20" stroke="#000" stroke-width="4.0" />
<line x1="801.86" y1="507.80" x2="801.86" y2="513.20" stroke="#000" stroke-width="4.0" />
<line x1="832.19" y1="507.80" x2="832.19" y2="513.20" stroke="#000" stroke-width="4.0" />
<line x1="862.52" y1="507.80" x2="862.52" y2="513.20" stroke="#000" stroke-width="4.0" />
<line x1="892.85" y1="507.80" x2="892.85" y2="513.20" stroke="#000" stroke-width="4.0" />
<line x1="923.18" y1="507.80" x2="923.18" y2="513.20" stroke="#000" stroke-width="4.0" />
<line x1="953.51" y1="507.80" x2="953.51" y2="513.20" stroke="#000" stroke-width="4.0" />
<line x1="726.20" y1="508.00" x2="731.00" y2="508.00" stroke="#000" stroke-width="4.6" />
<line x1="726.20" y1="443.10" x2="731.00" y2="443.10" stroke="#000" stroke-width="4.6" />
<line x1="726.20" y1="378.20" x2="731.00" y2="378.20" stroke="#000" stroke-width="4.6" />
<line x1="726.20" y1="313.30" x2="731.00" y2="313.30" stroke="#000" stroke-width="4.6" />
<line x1="963.50" y1="334.50" x2="968.90" y2="334.50" stroke="#000" stroke-width="3.6" />
<line x1="963.50" y1="403.50" x2="968.90" y2="403.50" stroke="#000" stroke-width="3.6" />
<line x1="963.50" y1="472.50" x2="968.90" y2="472.50" stroke="#000" stroke-width="3.6" />
<text transform="translate(732.17,542.67) scale(0.9868,1)" font-size="33.36" font-family="Liberation Sans, sans-serif" font-weight="bold" fill="#000" stroke="#000" stroke-width="0.45">0</text>
<text transform="translate(763.54,543.00) scale(0.6481,1)" font-size="34.33" font-family="Liberation Sans, sans-serif" font-weight="bold" fill="#000" stroke="#000" stroke-width="0.45">1</text>
<text transform="translate(793.00,543.00) scale(0.9628,1)" font-size="33.84" font-family="Liberation Sans, sans-serif" font-weight="bold" fill="#000" stroke="#000" stroke-width="0.45">2</text>
<text transform="translate(823.68,542.58) scale(0.9507,1)" font-size="33.24" font-family="Liberation Sans, sans-serif" font-weight="bold" fill="#000" stroke="#000" stroke-width="0.45">3</text>
<text transform="translate(854.28,543.00) scale(0.8563,1)" font-size="34.33" font-family="Liberation Sans, sans-serif" font-weight="bold" fill="#000" stroke="#000" stroke-width="0.45">4</text>
<text transform="translate(884.10,542.66) scale(0.9339,1)" font-size="33.84" font-family="Liberation Sans, sans-serif" font-weight="bold" fill="#000" stroke="#000" stroke-width="0.45">5</text>
<text transform="translate(914.25,542.67) scale(0.9716,1)" font-size="33.36" font-family="Liberation Sans, sans-serif" font-weight="bold" fill="#000" stroke="#000" stroke-width="0.45">6</text>
<text transform="translate(944.28,543.00) scale(0.9793,1)" font-size="34.33" font-family="Liberation Sans, sans-serif" font-weight="bold" fill="#000" stroke="#000" stroke-width="0.45">7</text>
<text transform="translate(673.04,324.06) scale(0.9253,1)" font-size="33.92" font-family="Liberation Sans, sans-serif" font-weight="bold" fill="#000" stroke="#000" stroke-width="0.45">150</text>
<text transform="translate(673.04,387.86) scale(0.9253,1)" font-size="33.92" font-family="Liberation Sans, sans-serif" font-weight="bold" fill="#000" stroke="#000" stroke-width="0.45">100</text>
<text transform="translate(689.63,453.26) scale(0.9501,1)" font-size="33.92" font-family="Liberation Sans, sans-serif" font-weight="bold" fill="#000" stroke="#000" stroke-width="0.45">50</text>
<text transform="translate(707.38,518.27) scale(0.9743,1)" font-size="33.36" font-family="Liberation Sans, sans-serif" font-weight="bold" fill="#000" stroke="#000" stroke-width="0.45">0</text>
<text transform="translate(971.77,342.73) scale(0.9638,1)" font-size="27.14" font-family="Liberation Sans, sans-serif" font-weight="bold" fill="#000" stroke="#000" stroke-width="0.45">100</text>
<text transform="translate(972.62,412.33) scale(0.9644,1)" font-size="26.86" font-family="Liberation Sans, sans-serif" font-weight="bold" fill="#000" stroke="#000" stroke-width="0.45">80</text>
<text transform="translate(971.46,481.33) scale(1.0049,1)" font-size="26.86" font-family="Liberation Sans, sans-serif" font-weight="bold" fill="#000" stroke="#000" stroke-width="0.45">60</text>
<rect x="776.80" y="314.20" width="1.10" height="7.00" fill="#ff0000" stroke="none" stroke-width="0" />
<rect x="796.20" y="314.20" width="1.20" height="7.00" fill="#ff0000" stroke="none" stroke-width="0" />
<circle cx="787.2" cy="317.6" r="6.5" fill="#fff" stroke="#ff0000" stroke-width="1.4"/><path d="M780.7,317.6 A6.5,6.5 0 0 1 793.7,317.6 Z" fill="#ff0000"/>
<text transform="translate(803.90,322.56) scale(0.9488,1)" font-size="24.35" font-family="Liberation Sans, sans-serif" font-weight="bold" fill="#000" stroke="#000" stroke-width="0.45">Nanosheet</text>
<line x1="782.50" y1="341.10" x2="802.20" y2="341.10" stroke="#0000ff" stroke-width="6.2" />
<text transform="translate(808.67,345.26) scale(0.9808,1)" font-size="23.95" font-family="Liberation Sans, sans-serif" font-weight="bold" fill="#000" stroke="#000" stroke-width="0.45">Nanowire</text>
<text transform="translate(728.04,415.43) scale(0.9569,1)" font-size="51.90" font-family="Liberation Sans, sans-serif" font-weight="bold" fill="#000" stroke="#000" stroke-width="0.45">(e)</text>
<line x1="784.80" y1="448.20" x2="756.00" y2="448.20" stroke="#000" stroke-width="4.2" />
<path d="M747.8,448.2 L757.4,442.8 L757.4,453.6 Z" fill="#000"/>
<line x1="931.90" y1="444.90" x2="960.00" y2="444.90" stroke="#000" stroke-width="4.2" />
<path d="M967.4,444.9 L958.8,439 L958.8,450.8 Z" fill="#000"/>
<text transform="translate(798.15,569.80) scale(0.8790,1)" font-size="28.80" font-family="Liberation Sans, sans-serif" font-weight="bold" fill="#000" stroke="#000" stroke-width="0.45">T</text>
<text transform="translate(813.99,580.80) scale(0.9341,1)" font-size="16.58" font-family="Liberation Sans, sans-serif" font-weight="bold" fill="#000" stroke="#000" stroke-width="0.45">FE</text>
<text transform="translate(840.80,569.70) scale(0.9260,1)" font-size="27.45" font-family="Liberation Sans, sans-serif" font-weight="bold" fill="#000" stroke="#000" stroke-width="0.45">[</text>
<text transform="translate(856.69,569.80) scale(0.9845,1)" font-size="26.79" font-family="Liberation Sans, sans-serif" font-weight="bold" fill="#000" stroke="#000" stroke-width="0.45">nm</text>
<text transform="translate(903.75,569.70) scale(0.8987,1)" font-size="27.45" font-family="Liberation Sans, sans-serif" font-weight="bold" fill="#000" stroke="#000" stroke-width="0.45">]</text>
<text transform="translate(672.00,497.27) rotate(-90) scale(1.3454,1)" font-size="28.22" font-family="Liberation Sans, sans-serif" font-weight="bold" fill="#000" stroke="#000" stroke-width="0.45">I</text>
<text transform="translate(677.79,486.35) rotate(-90) scale(0.8807,1)" font-size="21.20" font-family="Liberation Sans, sans-serif" font-weight="bold" fill="#000" stroke="#000" stroke-width="0.45">ON</text>
<text transform="translate(671.21,450.53) rotate(-90) scale(1.1531,1)" font-size="27.88" font-family="Liberation Sans, sans-serif" fill="#000" stroke="#000" stroke-width="0.45">(</text>
<text transform="translate(671.36,436.77) rotate(-90) scale(1.1053,1)" font-size="29.04" font-family="Liberation Serif, serif" fill="#000" stroke="#000" stroke-width="0.45">μ</text>
<text transform="translate(672.06,420.14) rotate(-90) scale(1.0979,1)" font-size="27.11" font-family="Liberation Sans, sans-serif" font-weight="bold" fill="#000" stroke="#000" stroke-width="0.45">A/</text>
<text transform="translate(671.36,390.21) rotate(-90) scale(1.1218,1)" font-size="29.04" font-family="Liberation Serif, serif" fill="#000" stroke="#000" stroke-width="0.45">μ</text>
<text transform="translate(672.40,374.30) rotate(-90) scale(0.9399,1)" font-size="27.91" font-family="Liberation Sans, sans-serif" font-weight="bold" fill="#000" stroke="#000" stroke-width="0.45">m</text>
<text transform="translate(671.21,342.16) rotate(-90) scale(1.1531,1)" font-size="27.88" font-family="Liberation Sans, sans-serif" fill="#000" stroke="#000" stroke-width="0.45">)</text>
<text transform="translate(1022.92,513.76) rotate(-90) scale(0.9725,1)" font-size="28.50" font-family="Liberation Sans, sans-serif" font-weight="bold" fill="#000" stroke="#000" stroke-width="0.45">SS</text>
<text transform="translate(1022.99,476.21) rotate(-90) scale(1.0405,1)" font-size="28.50" font-family="Liberation Sans, sans-serif" font-weight="bold" fill="#000" stroke="#000" stroke-width="0.45">(mV/dec)</text>
</svg>
</body></html>
